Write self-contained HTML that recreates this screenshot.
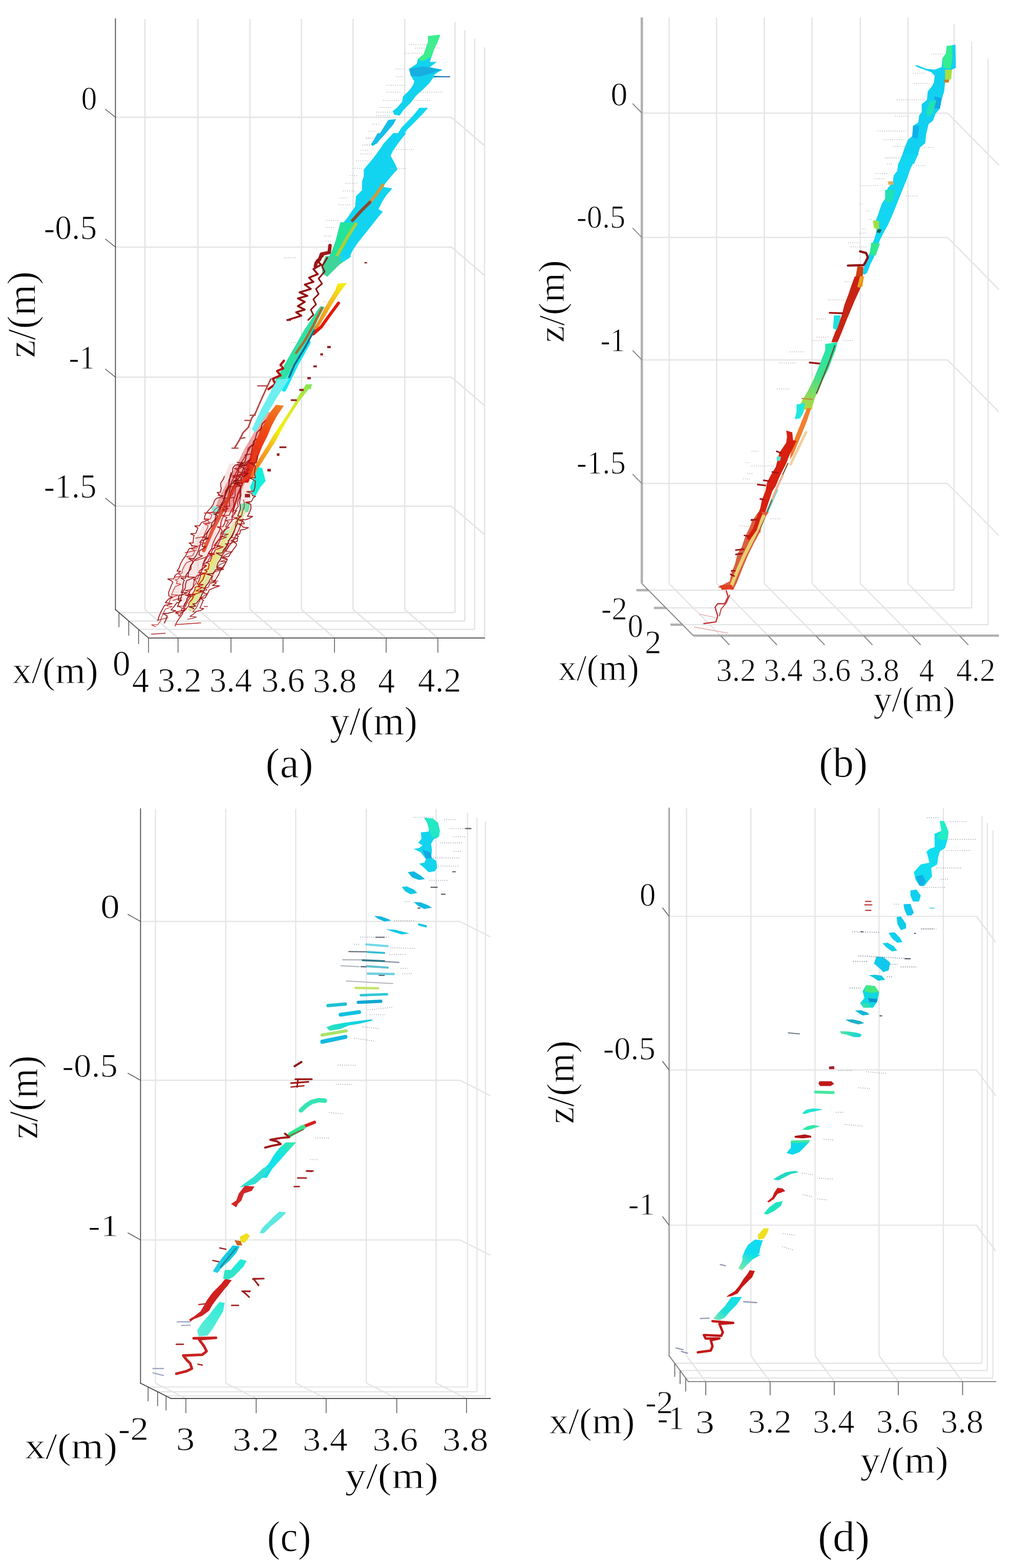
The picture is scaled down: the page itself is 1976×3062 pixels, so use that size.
<!DOCTYPE html><html><head><meta charset="utf-8"><style>html,body{margin:0;padding:0;background:#fff;}svg{display:block;}</style></head><body><svg width="1976" height="3062" viewBox="0 0 1976 3062"><g stroke="#e3e3e3" stroke-width="2.5" fill="none"><line x1="283.0" y1="37.0" x2="283.0" y2="1190.3"/><line x1="283.0" y1="1190.3" x2="347.6" y2="1245.8"/><line x1="386.4" y1="37.0" x2="386.4" y2="1190.3"/><line x1="386.4" y1="1190.3" x2="451.0" y2="1245.8"/><line x1="488.0" y1="37.0" x2="488.0" y2="1190.3"/><line x1="488.0" y1="1190.3" x2="552.6" y2="1245.8"/><line x1="588.6" y1="37.0" x2="588.6" y2="1190.3"/><line x1="588.6" y1="1190.3" x2="653.2" y2="1245.8"/><line x1="689.4" y1="37.0" x2="689.4" y2="1190.3"/><line x1="689.4" y1="1190.3" x2="754.0" y2="1245.8"/><line x1="790.4" y1="37.0" x2="790.4" y2="1190.3"/><line x1="790.4" y1="1190.3" x2="855.0" y2="1245.8"/><line x1="225.4" y1="229.0" x2="881.5" y2="229.0"/><line x1="881.5" y1="229.0" x2="946.1" y2="284.5"/><line x1="225.4" y1="482.5" x2="881.5" y2="482.5"/><line x1="881.5" y1="482.5" x2="946.1" y2="538.0"/><line x1="225.4" y1="736.5" x2="881.5" y2="736.5"/><line x1="881.5" y1="736.5" x2="946.1" y2="792.0"/><line x1="225.4" y1="988.5" x2="881.5" y2="988.5"/><line x1="881.5" y1="988.5" x2="946.1" y2="1044.0"/><line x1="888.4" y1="42.9" x2="888.4" y2="1196.2"/><line x1="232.3" y1="1196.2" x2="888.4" y2="1196.2"/><line x1="907.5" y1="59.4" x2="907.5" y2="1212.7"/><line x1="251.4" y1="1212.7" x2="907.5" y2="1212.7"/><line x1="926.7" y1="75.8" x2="926.7" y2="1229.1"/><line x1="270.6" y1="1229.1" x2="926.7" y2="1229.1"/><line x1="946.1" y1="92.5" x2="946.1" y2="1245.8"/><line x1="290.0" y1="1245.8" x2="946.1" y2="1245.8"/></g><g stroke="#e3e3e3" stroke-width="2.3" fill="none"><line x1="1306.5" y1="34.0" x2="1306.5" y2="1139.5"/><line x1="1306.5" y1="1139.5" x2="1407.0" y2="1241.3"/><line x1="1399.2" y1="34.0" x2="1399.2" y2="1139.5"/><line x1="1399.2" y1="1139.5" x2="1499.7" y2="1241.3"/><line x1="1492.3" y1="34.0" x2="1492.3" y2="1139.5"/><line x1="1492.3" y1="1139.5" x2="1592.8" y2="1241.3"/><line x1="1585.6" y1="34.0" x2="1585.6" y2="1139.5"/><line x1="1585.6" y1="1139.5" x2="1686.1" y2="1241.3"/><line x1="1679.8" y1="34.0" x2="1679.8" y2="1139.5"/><line x1="1679.8" y1="1139.5" x2="1780.3" y2="1241.3"/><line x1="1772.8" y1="34.0" x2="1772.8" y2="1139.5"/><line x1="1772.8" y1="1139.5" x2="1873.3" y2="1241.3"/><line x1="1253.2" y1="220.8" x2="1850.0" y2="220.8"/><line x1="1850.0" y1="220.8" x2="1950.5" y2="322.6"/><line x1="1253.2" y1="463.6" x2="1850.0" y2="463.6"/><line x1="1850.0" y1="463.6" x2="1950.5" y2="565.4"/><line x1="1253.2" y1="702.8" x2="1850.0" y2="702.8"/><line x1="1850.0" y1="702.8" x2="1950.5" y2="804.6"/><line x1="1253.2" y1="944.2" x2="1850.0" y2="944.2"/><line x1="1850.0" y1="944.2" x2="1950.5" y2="1046.0"/><line x1="1862.9" y1="47.0" x2="1862.9" y2="1152.5"/><line x1="1266.1" y1="1152.5" x2="1862.9" y2="1152.5"/><line x1="1897.1" y1="81.7" x2="1897.1" y2="1187.2"/><line x1="1300.3" y1="1187.2" x2="1897.1" y2="1187.2"/><line x1="1929.4" y1="114.4" x2="1929.4" y2="1219.9"/><line x1="1332.6" y1="1219.9" x2="1929.4" y2="1219.9"/></g><g stroke="#e3e3e3" stroke-width="2.2" fill="none"><line x1="303.5" y1="1579.5" x2="303.5" y2="2701.0"/><line x1="303.5" y1="2701.0" x2="362.9" y2="2731.0"/><line x1="440.8" y1="1579.5" x2="440.8" y2="2701.0"/><line x1="440.8" y1="2701.0" x2="500.2" y2="2731.0"/><line x1="577.4" y1="1579.5" x2="577.4" y2="2701.0"/><line x1="577.4" y1="2701.0" x2="636.8" y2="2731.0"/><line x1="715.3" y1="1579.5" x2="715.3" y2="2701.0"/><line x1="715.3" y1="2701.0" x2="774.7" y2="2731.0"/><line x1="851.5" y1="1579.5" x2="851.5" y2="2701.0"/><line x1="851.5" y1="2701.0" x2="910.9" y2="2731.0"/><line x1="274.4" y1="1799.4" x2="898.0" y2="1799.4"/><line x1="898.0" y1="1799.4" x2="957.4" y2="1829.4"/><line x1="274.4" y1="2109.6" x2="898.0" y2="2109.6"/><line x1="898.0" y1="2109.6" x2="957.4" y2="2139.6"/><line x1="274.4" y1="2421.3" x2="898.0" y2="2421.3"/><line x1="898.0" y1="2421.3" x2="957.4" y2="2451.3"/><line x1="912.9" y1="1587.0" x2="912.9" y2="2708.5"/><line x1="289.2" y1="2708.5" x2="912.9" y2="2708.5"/><line x1="931.3" y1="1596.3" x2="931.3" y2="2717.8"/><line x1="307.7" y1="2717.8" x2="931.3" y2="2717.8"/><line x1="947.9" y1="1604.7" x2="947.9" y2="2726.2"/><line x1="324.3" y1="2726.2" x2="947.9" y2="2726.2"/></g><g stroke="#e3e3e3" stroke-width="2.2" fill="none"><line x1="1340.5" y1="1578.3" x2="1340.5" y2="2647.5"/><line x1="1340.5" y1="2647.5" x2="1378.0" y2="2698.0"/><line x1="1466.2" y1="1578.3" x2="1466.2" y2="2647.5"/><line x1="1466.2" y1="2647.5" x2="1503.7" y2="2698.0"/><line x1="1591.5" y1="1578.3" x2="1591.5" y2="2647.5"/><line x1="1591.5" y1="2647.5" x2="1629.0" y2="2698.0"/><line x1="1716.5" y1="1578.3" x2="1716.5" y2="2647.5"/><line x1="1716.5" y1="2647.5" x2="1754.0" y2="2698.0"/><line x1="1842.0" y1="1578.3" x2="1842.0" y2="2647.5"/><line x1="1842.0" y1="2647.5" x2="1879.5" y2="2698.0"/><line x1="1306.5" y1="1789.5" x2="1906.5" y2="1789.5"/><line x1="1906.5" y1="1789.5" x2="1944.0" y2="1840.0"/><line x1="1306.5" y1="2089.4" x2="1906.5" y2="2089.4"/><line x1="1906.5" y1="2089.4" x2="1944.0" y2="2139.9"/><line x1="1306.5" y1="2392.5" x2="1906.5" y2="2392.5"/><line x1="1906.5" y1="2392.5" x2="1944.0" y2="2443.0"/><line x1="1917.4" y1="1592.9" x2="1917.4" y2="2662.1"/><line x1="1317.4" y1="2662.1" x2="1917.4" y2="2662.1"/><line x1="1927.9" y1="1607.1" x2="1927.9" y2="2676.3"/><line x1="1327.9" y1="2676.3" x2="1927.9" y2="2676.3"/><line x1="1938.8" y1="1621.7" x2="1938.8" y2="2690.9"/><line x1="1338.8" y1="2690.9" x2="1938.8" y2="2690.9"/></g><g><polygon points="447.8,905.0 437.9,930.0 426.8,960.0 415.0,992.0 394.0,1030.0 379.0,1057.0 363.8,1090.0 349.0,1122.0 338.7,1150.0 329.4,1175.0 392.2,1175.0 407.2,1150.0 424.0,1122.0 440.2,1090.0 457.0,1057.0 467.8,1030.0 483.0,992.0 486.0,960.0 488.7,930.0 496.8,905.0" fill="#f0b4b4" fill-opacity="0.35"/><polygon points="835.8,70.4 859.5,67.9 854.4,82.2 847.7,95.7 842.6,110.9 839.2,121.0 852.7,121.0 839.2,131.2 864.5,136.2 854.4,141.3 846.0,148.1 876.4,149.7 846.0,151.4 839.2,161.6 825.7,175.1 812.2,186.9 802.1,200.4 788.6,213.9 780.1,225.7 770.0,224.0 766.6,217.3 775.1,210.5 785.2,198.7 786.9,188.6 800.4,175.1 807.1,164.9 808.8,158.2 802.1,148.1 819.0,139.6 798.7,134.5 813.9,124.4 815.6,116.0 827.4,105.8 832.5,90.6 835.8,82.2" fill="#12d2ee"/><polygon points="835.8,70.4 859.5,67.9 854.4,82.2 847.7,95.7 842.6,110.9 825.7,119.4 815.6,116.0 827.4,105.8 832.5,90.6 835.8,82.2" fill="#3cef8c"/><polygon points="798.7,134.5 825.7,129.5 862.9,136.2 842.6,143.0 819.0,149.7 802.1,148.1" fill="#18aee0"/><polyline points="847.7,149.4 878.1,150.1" fill="none" stroke="#1570a8" stroke-width="2.0" stroke-linejoin="round" stroke-linecap="round"/><polygon points="819.0,210.5 835.8,210.5 825.7,222.3 808.8,239.2 795.3,252.7 786.9,264.5 775.1,279.7 768.3,289.9 761.6,300.0 739.6,300.0 748.1,286.5 761.6,276.4 775.1,262.9 785.2,247.7 800.4,232.5 812.2,219.0" fill="#10d6f0"/><polygon points="758.2,234.2 773.4,232.5 768.3,242.6 758.2,254.4 748.1,266.2 734.5,279.7 727.8,284.8 724.4,281.4 731.2,273.0 741.3,261.2 749.7,247.7" fill="#14bfe8"/><polygon points="737.3,260.0 752.5,260.0 735.6,280.3 727.1,285.3 724.6,281.9" fill="#14bfe8"/><polygon points="793.0,260.0 779.5,276.9 767.7,293.8 762.6,303.9 771.0,319.1 776.1,330.9 769.4,337.7 752.5,357.9 747.4,364.7 766.0,368.1 754.2,381.6 745.7,395.1 739.0,408.6 747.4,413.6 737.3,425.5 725.5,440.6 711.9,457.5 698.4,474.4 688.3,489.6 681.6,504.8 674.8,506.5 664.7,504.8 654.5,520.0 632.6,520.0 641.0,503.1 651.2,484.5 654.5,472.7 663.0,454.2 668.1,437.3 678.2,425.5 684.9,415.3 693.4,403.5 695.1,383.2 706.9,371.4 706.9,354.5 710.3,344.4 710.3,330.9 720.4,319.1 728.8,309.0 742.3,290.4 749.1,280.3 767.7,260.0" fill="#12d4f0"/><polygon points="664.7,433.9 695.1,435.6 688.3,454.2 674.8,479.5 661.3,499.7 644.4,499.7 654.5,472.7" fill="#22e49a"/><polyline points="747.4,361.3 735.6,378.2 722.1,395.1" fill="none" stroke="#d09a38" stroke-width="6.1" stroke-linejoin="round" stroke-linecap="round"/><polyline points="722.1,395.1 705.2,411.9 688.3,430.5" fill="none" stroke="#8a4a30" stroke-width="6.1" stroke-linejoin="round" stroke-linecap="round"/><polyline points="695.1,437.3 678.2,462.6 657.9,499.7 647.8,520.0" fill="none" stroke="#a8d040" stroke-width="6.1" stroke-linejoin="round" stroke-linecap="round"/><polyline points="644.4,479.5 642.7,493.0 627.5,496.4 624.2,506.5 617.4,513.2 615.7,520.0" fill="none" stroke="#a01818" stroke-width="6.8" stroke-linejoin="round" stroke-linecap="round"/><polygon points="635.6,500.0 686.2,500.0 662.6,516.9 645.7,533.8 639.0,540.5 628.8,533.8 628.8,516.9" fill="#3ed49a"/><polygon points="666.0,500.0 686.2,500.0 672.7,510.1 662.6,510.1" fill="#16d8f0"/><polyline points="630.5,500.0 618.7,508.4 627.1,516.9 611.9,525.3 620.4,535.5 603.5,542.2 611.9,550.6 595.1,555.7 606.9,564.2 584.9,570.9 600.1,577.7 581.6,582.7 595.1,589.5 581.6,597.9 595.1,604.7 578.2,609.7 588.3,616.5 561.3,624.9" fill="none" stroke="#951010" stroke-width="3.7" stroke-linejoin="round" stroke-linecap="round"/><polyline points="639.0,503.4 628.8,520.3 633.9,530.4 622.1,543.9 628.8,554.0 617.0,564.2 622.1,574.3 611.9,584.4 617.0,594.5 606.9,604.7 611.9,614.8 601.8,624.9" fill="none" stroke="#8a1010" stroke-width="3.0" stroke-linejoin="round" stroke-linecap="round"/><linearGradient id="g1" gradientUnits="userSpaceOnUse" x1="669.4" y1="554.0" x2="611.9" y2="646.9"><stop offset="0" stop-color="#f4f010"/><stop offset="0.35" stop-color="#f4c020"/><stop offset="1" stop-color="#f08020"/></linearGradient><polygon points="659.2,554.0 654.2,567.5 644.0,584.4 633.9,601.3 625.5,618.2 617.0,635.1 608.6,645.2 615.3,648.6 622.1,638.4 632.2,621.6 642.3,604.7 652.5,587.8 662.6,572.6 671.0,560.8 677.8,552.3" fill="url(#g1)"/><polyline points="660.9,592.0 644.0,614.8 627.1,638.4 611.9,651.9" fill="none" stroke="#e01808" stroke-width="6.1" stroke-linejoin="round" stroke-linecap="round"/><polygon points="625.5,597.9 633.9,599.6 622.1,621.6 611.9,645.2 603.5,662.1 591.7,682.3 578.2,702.6 568.1,722.9 557.9,739.7 547.8,760.0 530.9,760.0 539.4,739.7 551.2,719.5 564.7,695.8 578.2,672.2 593.4,645.2 606.9,624.9 617.0,609.7" fill="#30e0a4"/><polyline points="628.8,601.3 611.9,635.1 595.1,665.5 578.2,689.1" fill="none" stroke="#b06830" stroke-width="4.4" stroke-linejoin="round" stroke-linecap="round"/><polyline points="601.8,668.8 578.2,711.0 554.5,760.0" fill="none" stroke="#12e8f4" stroke-width="9.5" stroke-linejoin="round" stroke-linecap="round"/><polyline points="613.6,645.2 595.1,679.0 574.8,712.7 564.7,736.4" fill="none" stroke="#206a80" stroke-width="3.7" stroke-linejoin="round" stroke-linecap="round"/><polyline points="554.5,704.3 547.8,712.7 552.9,719.5 541.0,724.5 547.8,733.0 532.6,739.7 537.7,749.9 524.2,760.0" fill="none" stroke="#b01414" stroke-width="4.4" stroke-linejoin="round" stroke-linecap="round"/><polygon points="598.4,751.6 608.6,749.9 606.9,760.0 596.8,760.0" fill="#84e844"/><rect x="639.0" y="675.6" width="6.8" height="4.2" fill="#901818"/><rect x="625.5" y="689.9" width="5.1" height="4.2" fill="#901818"/><rect x="611.9" y="713.6" width="6.8" height="3.7" fill="#901818"/><rect x="600.1" y="736.4" width="6.8" height="4.2" fill="#901818"/><rect x="559.6" y="623.2" width="8.4" height="3.4" fill="#901818"/><rect x="711.6" y="511.8" width="5.1" height="2.5" fill="#901818"/><polygon points="518.7,800.8 508.6,821.0 498.4,839.6 488.3,858.2 478.2,875.1 468.1,895.3 457.9,915.6 447.8,934.2 437.7,952.7 427.5,973.0 417.4,1000.0 454.5,1000.0 464.7,976.4 474.8,951.0 481.6,934.2 488.3,917.3 495.1,895.3 503.5,873.4 511.9,849.7 520.4,827.8 527.1,805.8" fill="#e06a6a" fill-opacity="0.6"/><polyline points="511.9,834.5 501.8,844.7 495.1,868.3 484.9,875.1 478.2,902.1 468.1,908.8 461.3,935.8 451.2,946.0 444.4,973.0 434.3,1000.0" fill="none" stroke="#a01818" stroke-width="2.0" stroke-linejoin="round" stroke-linecap="round"/><polyline points="522.1,817.7 511.9,827.8 505.2,854.8 495.1,861.6 488.3,897.0 478.2,905.5 471.4,927.4 461.3,939.2 454.5,964.5 444.4,976.4 441.0,1000.0" fill="none" stroke="#a01818" stroke-width="2.0" stroke-linejoin="round" stroke-linecap="round"/><polyline points="508.6,861.6 491.7,898.7 478.2,932.5 464.7,964.5 454.5,1000.0" fill="none" stroke="#c01010" stroke-width="2.7" stroke-linejoin="round" stroke-linecap="round"/><polyline points="491.7,868.3 478.2,891.9 468.1,908.8 457.9,929.1 447.8,951.0 437.7,973.0 427.5,1000.0" fill="none" stroke="#b01818" stroke-width="1.7" stroke-linejoin="round" stroke-linecap="round"/><line x1="478.2" y1="888.6" x2="498.4" y2="885.2" stroke="#a01818" stroke-width="1.7" stroke-linecap="round"/><line x1="468.1" y1="908.8" x2="488.3" y2="907.1" stroke="#a01818" stroke-width="1.7" stroke-linecap="round"/><line x1="454.5" y1="929.1" x2="478.2" y2="925.7" stroke="#a01818" stroke-width="1.7" stroke-linecap="round"/><line x1="444.4" y1="951.0" x2="468.1" y2="949.4" stroke="#a01818" stroke-width="1.7" stroke-linecap="round"/><line x1="434.3" y1="973.0" x2="457.9" y2="971.3" stroke="#a01818" stroke-width="1.7" stroke-linecap="round"/><line x1="488.3" y1="871.7" x2="505.2" y2="868.3" stroke="#a01818" stroke-width="1.7" stroke-linecap="round"/><polyline points="528.8,740.0 517.0,765.3 508.6,783.9 498.4,807.5 491.7,816.0 484.9,834.5 474.8,844.7 468.1,858.2 457.9,875.1" fill="none" stroke="#b04848" stroke-width="3.0" stroke-linejoin="round" stroke-linecap="round"/><line x1="503.5" y1="753.5" x2="522.1" y2="753.5" stroke="#b04848" stroke-width="2.4" stroke-linecap="round"/><line x1="478.2" y1="821.0" x2="488.3" y2="821.0" stroke="#b04848" stroke-width="2.4" stroke-linecap="round"/><line x1="452.9" y1="875.1" x2="464.7" y2="875.1" stroke="#b04848" stroke-width="2.4" stroke-linecap="round"/><line x1="488.3" y1="810.9" x2="498.4" y2="810.9" stroke="#b04848" stroke-width="2.4" stroke-linecap="round"/><line x1="468.1" y1="856.5" x2="478.2" y2="854.8" stroke="#b04848" stroke-width="2.4" stroke-linecap="round"/><polygon points="542.3,740.0 532.2,756.9 522.1,777.1 511.9,795.7 503.5,812.6 496.8,827.8 491.7,837.9 498.4,844.7 508.6,827.8 522.1,807.5 532.2,790.6 542.3,773.8 554.2,755.2 564.3,740.0" fill="#6cefef"/><linearGradient id="g2" gradientUnits="userSpaceOnUse" x1="545.7" y1="789.0" x2="478.2" y2="942.6"><stop offset="0" stop-color="#f08020"/><stop offset="0.35" stop-color="#f04a14"/><stop offset="1" stop-color="#e01010"/></linearGradient><polygon points="539.0,790.6 525.5,807.5 517.0,824.4 506.9,844.7 496.8,866.6 488.3,891.9 479.9,917.3 471.4,942.6 484.9,942.6 493.4,919.0 503.5,893.6 511.9,871.7 522.1,851.4 530.5,831.2 540.6,812.6 554.2,792.3" fill="url(#g2)"/><linearGradient id="g3" gradientUnits="userSpaceOnUse" x1="603.1" y1="751.8" x2="488.3" y2="934.2"><stop offset="0" stop-color="#80e850"/><stop offset="0.22" stop-color="#d8e830"/><stop offset="0.5" stop-color="#f4f010"/><stop offset="0.7" stop-color="#f4a820"/><stop offset="1" stop-color="#f06a20"/></linearGradient><polygon points="598.1,750.1 584.5,770.4 572.7,790.6 560.9,809.2 547.4,829.5 533.9,849.7 522.1,870.0 510.3,888.6 498.4,908.8 488.3,927.4 484.9,934.2 493.4,934.2 503.5,915.6 515.3,897.0 527.1,878.4 539.0,859.9 549.1,841.3 559.2,822.7 571.0,804.2 582.9,785.6 599.7,763.6 609.9,751.8" fill="url(#g3)"/><polygon points="503.5,912.2 511.9,913.9 518.7,939.2 508.6,951.0 498.4,969.6 491.7,962.9 488.3,951.0 495.1,934.2" fill="#14f0da"/><polygon points="415.7,989.9 427.5,988.2 425.8,1000.0 414.0,1000.0" fill="#40d8d0"/><polygon points="478.2,983.1 488.3,981.4 484.9,1000.0 474.8,1000.0" fill="#70d890"/><rect x="545.7" y="871.7" width="13.5" height="3.4" fill="#9a2020"/><rect x="540.6" y="885.2" width="5.1" height="5.1" fill="#9a2020"/><rect x="522.1" y="915.6" width="6.8" height="5.1" fill="#9a2020"/><rect x="584.5" y="759.4" width="8.4" height="4.2" fill="#9a2020"/><rect x="567.7" y="779.7" width="11.8" height="3.4" fill="#9a2020"/><rect x="478.2" y="964.5" width="10.1" height="6.8" fill="#9a2020"/><polyline points="486.4,980.0 469.5,1005.3 457.7,1030.6 449.2,1050.9 435.7,1081.3 425.6,1098.2 415.5,1115.1" fill="none" stroke="#b04040" stroke-width="2.4" stroke-linejoin="round" stroke-linecap="round"/><polyline points="474.5,1013.8 466.1,1035.7 456.0,1054.3 440.8,1074.5 429.0,1089.7" fill="none" stroke="#c04848" stroke-width="2.4" stroke-linejoin="round" stroke-linecap="round"/><polyline points="439.1,1050.9 427.3,1074.5 415.5,1094.8 401.9,1118.4 390.1,1138.7 381.7,1157.3 371.6,1179.2" fill="none" stroke="#f0e068" stroke-width="6.8" stroke-linejoin="round" stroke-linecap="round"/><polygon points="412.1,990.1 429.0,988.4 427.3,1003.6 415.5,1005.3" fill="#90ecdc"/><polygon points="469.5,983.4 486.4,981.7 483.0,1000.3 467.8,1001.9" fill="#78e4b0"/><polygon points="435.7,1035.7 452.6,1034.0 450.9,1047.5 437.4,1049.2" fill="#b8f0c0"/><line x1="398.6" y1="1001.9" x2="427.3" y2="1000.3" stroke="#b84040" stroke-width="1.7" stroke-linecap="round"/><line x1="396.9" y1="1022.2" x2="412.1" y2="1020.5" stroke="#b84040" stroke-width="1.7" stroke-linecap="round"/><line x1="381.7" y1="1050.9" x2="401.9" y2="1047.5" stroke="#b84040" stroke-width="1.7" stroke-linecap="round"/><line x1="361.4" y1="1079.6" x2="383.4" y2="1074.5" stroke="#b84040" stroke-width="1.7" stroke-linecap="round"/><line x1="381.7" y1="1094.8" x2="401.9" y2="1088.1" stroke="#b84040" stroke-width="1.7" stroke-linecap="round"/><line x1="341.2" y1="1126.9" x2="368.2" y2="1125.2" stroke="#b84040" stroke-width="1.7" stroke-linecap="round"/><line x1="337.8" y1="1172.5" x2="354.7" y2="1167.4" stroke="#b84040" stroke-width="1.7" stroke-linecap="round"/><line x1="307.4" y1="1211.3" x2="327.7" y2="1206.2" stroke="#b84040" stroke-width="1.7" stroke-linecap="round"/><line x1="295.6" y1="1238.3" x2="322.6" y2="1236.6" stroke="#b84040" stroke-width="1.7" stroke-linecap="round"/><line x1="429.0" y1="1115.1" x2="439.1" y2="1101.6" stroke="#b84040" stroke-width="1.7" stroke-linecap="round"/><line x1="408.7" y1="1137.0" x2="425.6" y2="1134.5" stroke="#b84040" stroke-width="1.7" stroke-linecap="round"/><line x1="344.5" y1="1219.7" x2="391.8" y2="1216.4" stroke="#b84040" stroke-width="1.7" stroke-linecap="round"/><line x1="398.6" y1="1184.3" x2="405.3" y2="1184.3" stroke="#b84040" stroke-width="1.7" stroke-linecap="round"/><line x1="798.7" y1="87.3" x2="856.1" y2="87.3" stroke="#b4b8c4" stroke-width="1.5" stroke-dasharray="1.6 2.6"/><line x1="810.5" y1="94.0" x2="857.8" y2="94.0" stroke="#b4b8c4" stroke-width="1.5" stroke-dasharray="1.6 2.6"/><line x1="788.6" y1="104.2" x2="825.7" y2="104.2" stroke="#b4b8c4" stroke-width="1.5" stroke-dasharray="1.6 2.6"/><line x1="839.2" y1="119.4" x2="852.7" y2="119.4" stroke="#b4b8c4" stroke-width="1.5" stroke-dasharray="1.6 2.6"/><line x1="771.7" y1="134.5" x2="791.9" y2="134.5" stroke="#b4b8c4" stroke-width="1.5" stroke-dasharray="1.6 2.6"/><line x1="773.4" y1="149.7" x2="786.9" y2="149.7" stroke="#b4b8c4" stroke-width="1.5" stroke-dasharray="1.6 2.6"/><line x1="754.8" y1="166.6" x2="791.9" y2="166.6" stroke="#b4b8c4" stroke-width="1.5" stroke-dasharray="1.6 2.6"/><line x1="754.8" y1="180.1" x2="783.5" y2="180.1" stroke="#b4b8c4" stroke-width="1.5" stroke-dasharray="1.6 2.6"/><line x1="817.3" y1="180.1" x2="864.5" y2="180.1" stroke="#b4b8c4" stroke-width="1.5" stroke-dasharray="1.6 2.6"/><line x1="748.1" y1="196.2" x2="780.1" y2="196.2" stroke="#b4b8c4" stroke-width="1.5" stroke-dasharray="1.6 2.6"/><line x1="808.8" y1="196.2" x2="840.9" y2="196.2" stroke="#b4b8c4" stroke-width="1.5" stroke-dasharray="1.6 2.6"/><line x1="741.3" y1="209.7" x2="766.6" y2="209.7" stroke="#b4b8c4" stroke-width="1.5" stroke-dasharray="1.6 2.6"/><line x1="734.5" y1="219.0" x2="764.9" y2="219.0" stroke="#b4b8c4" stroke-width="1.5" stroke-dasharray="1.6 2.6"/><line x1="734.5" y1="225.7" x2="763.2" y2="225.7" stroke="#b4b8c4" stroke-width="1.5" stroke-dasharray="1.6 2.6"/><line x1="726.1" y1="242.6" x2="741.3" y2="242.6" stroke="#b4b8c4" stroke-width="1.5" stroke-dasharray="1.6 2.6"/><line x1="719.4" y1="256.1" x2="734.5" y2="256.1" stroke="#b4b8c4" stroke-width="1.5" stroke-dasharray="1.6 2.6"/><line x1="714.3" y1="269.6" x2="727.8" y2="269.6" stroke="#b4b8c4" stroke-width="1.5" stroke-dasharray="1.6 2.6"/><line x1="707.5" y1="283.1" x2="724.4" y2="283.1" stroke="#b4b8c4" stroke-width="1.5" stroke-dasharray="1.6 2.6"/><line x1="704.2" y1="293.2" x2="719.4" y2="293.2" stroke="#b4b8c4" stroke-width="1.5" stroke-dasharray="1.6 2.6"/><line x1="715.3" y1="270.1" x2="728.8" y2="270.1" stroke="#b4b8c4" stroke-width="1.5" stroke-dasharray="1.6 2.6"/><line x1="711.9" y1="283.6" x2="722.1" y2="283.6" stroke="#b4b8c4" stroke-width="1.5" stroke-dasharray="1.6 2.6"/><line x1="703.5" y1="300.5" x2="728.8" y2="300.5" stroke="#b4b8c4" stroke-width="1.5" stroke-dasharray="1.6 2.6"/><line x1="695.1" y1="314.0" x2="723.8" y2="314.0" stroke="#b4b8c4" stroke-width="1.5" stroke-dasharray="1.6 2.6"/><line x1="688.3" y1="329.2" x2="708.6" y2="329.2" stroke="#b4b8c4" stroke-width="1.5" stroke-dasharray="1.6 2.6"/><line x1="683.2" y1="342.7" x2="700.1" y2="342.7" stroke="#b4b8c4" stroke-width="1.5" stroke-dasharray="1.6 2.6"/><line x1="674.8" y1="357.9" x2="700.1" y2="357.9" stroke="#b4b8c4" stroke-width="1.5" stroke-dasharray="1.6 2.6"/><line x1="669.7" y1="373.1" x2="695.1" y2="373.1" stroke="#b4b8c4" stroke-width="1.5" stroke-dasharray="1.6 2.6"/><line x1="664.7" y1="386.6" x2="678.2" y2="386.6" stroke="#b4b8c4" stroke-width="1.5" stroke-dasharray="1.6 2.6"/><line x1="661.3" y1="400.1" x2="684.9" y2="400.1" stroke="#b4b8c4" stroke-width="1.5" stroke-dasharray="1.6 2.6"/><line x1="637.7" y1="430.5" x2="661.3" y2="430.5" stroke="#b4b8c4" stroke-width="1.5" stroke-dasharray="1.6 2.6"/><line x1="637.7" y1="444.0" x2="654.5" y2="444.0" stroke="#b4b8c4" stroke-width="1.5" stroke-dasharray="1.6 2.6"/><line x1="632.6" y1="460.9" x2="647.8" y2="460.9" stroke="#b4b8c4" stroke-width="1.5" stroke-dasharray="1.6 2.6"/><line x1="636.0" y1="471.0" x2="649.5" y2="471.0" stroke="#b4b8c4" stroke-width="1.5" stroke-dasharray="1.6 2.6"/><line x1="769.4" y1="292.1" x2="808.2" y2="292.1" stroke="#b4b8c4" stroke-width="1.5" stroke-dasharray="1.6 2.6"/><line x1="762.6" y1="329.2" x2="793.0" y2="329.2" stroke="#b4b8c4" stroke-width="1.5" stroke-dasharray="1.6 2.6"/><line x1="554.5" y1="503.4" x2="578.2" y2="503.4" stroke="#c8a8a8" stroke-width="1.5" stroke-dasharray="1.6 2.6"/><line x1="544.4" y1="716.1" x2="571.4" y2="716.1" stroke="#c8a8a8" stroke-width="1.5" stroke-dasharray="1.6 2.6"/><line x1="568.1" y1="668.8" x2="588.3" y2="668.8" stroke="#c8a8a8" stroke-width="1.5" stroke-dasharray="1.6 2.6"/><line x1="632.2" y1="589.5" x2="645.7" y2="589.5" stroke="#c8a8a8" stroke-width="1.5" stroke-dasharray="1.6 2.6"/><line x1="635.6" y1="635.1" x2="644.0" y2="635.1" stroke="#c8a8a8" stroke-width="1.5" stroke-dasharray="1.6 2.6"/><line x1="625.5" y1="695.8" x2="637.3" y2="695.8" stroke="#c8a8a8" stroke-width="1.5" stroke-dasharray="1.6 2.6"/><polygon points="1865.6,87.0 1866.4,132.6 1858.8,136.0 1857.1,147.8 1852.1,157.9 1845.3,161.3 1843.6,178.2 1838.6,195.1 1835.2,211.9 1826.8,222.1 1821.7,235.6 1813.2,242.3 1808.2,262.6 1806.5,279.5 1796.4,287.9 1791.3,304.8 1784.5,320.0 1754.2,320.0 1760.9,304.8 1766.0,289.6 1772.7,272.7 1781.2,266.0 1782.9,245.7 1793.0,239.0 1794.7,225.5 1799.7,218.7 1799.7,203.5 1809.9,195.1 1811.6,178.2 1820.0,168.1 1823.4,161.3 1825.1,147.8 1818.3,141.0 1791.3,130.9 1786.2,127.5 1791.3,127.5 1808.2,134.3 1825.1,136.0 1838.6,130.9 1840.3,114.0 1847.0,103.9 1848.7,90.4" fill="#12d0f0"/><polygon points="1848.7,89.5 1858.8,88.4 1859.7,110.6 1856.3,134.3 1841.9,132.6 1840.3,114.0 1847.0,103.9" fill="#34ee90"/><polygon points="1845.3,136.0 1858.8,136.0 1857.1,154.5 1845.3,157.9" fill="#a8e040"/><polygon points="1843.6,155.4 1853.8,155.4 1852.1,161.3 1843.6,161.3" fill="#c88020"/><polygon points="1825.1,188.3 1838.6,191.7 1835.2,211.9 1823.4,211.9" fill="#10a8e6"/><polygon points="1782.9,245.7 1794.7,245.7 1791.3,271.0 1781.2,267.7" fill="#10b0e8"/><polygon points="1814.9,198.4 1828.4,195.1 1821.7,220.4 1811.6,228.8 1808.2,218.7" fill="#22e0b8"/><polygon points="1794.2,300.0 1785.7,313.5 1777.3,330.4 1770.5,350.6 1762.1,370.9 1755.3,387.8 1748.6,404.7 1741.8,421.6 1733.4,440.1 1724.9,455.3 1718.2,468.8 1711.4,485.7 1706.4,502.6 1699.6,516.1 1692.9,533.0 1687.8,536.4 1684.4,534.7 1687.8,517.8 1691.2,506.0 1697.9,494.2 1701.3,479.0 1706.4,468.8 1709.7,458.7 1711.4,448.6 1708.1,435.1 1714.8,418.2 1718.2,408.1 1721.6,397.9 1728.3,387.8 1730.0,374.3 1733.4,367.5 1743.5,355.7 1745.2,342.2 1751.9,333.8 1753.6,320.3 1762.1,310.1 1767.1,300.0" fill="#12d6f2"/><polygon points="1728.3,370.9 1748.6,370.9 1741.8,394.5 1728.3,394.5" fill="#22e0b4"/><polygon points="1704.7,430.0 1716.5,431.7 1716.5,448.6 1706.4,445.2" fill="#a0e040"/><polygon points="1701.3,473.9 1718.2,475.6 1709.7,499.2 1697.9,497.5" fill="#30e890"/><polygon points="1733.4,354.0 1743.5,354.0 1745.2,360.8 1735.1,360.8" fill="#e0b060"/><polygon points="1714.8,446.9 1721.6,448.6 1718.2,455.3 1711.4,453.6" fill="#206050"/><polyline points="1679.4,490.8 1691.2,494.2 1694.5,502.6 1689.5,512.7 1686.1,517.8 1655.7,518.6" fill="none" stroke="#901010" stroke-width="4.4" stroke-linejoin="round" stroke-linecap="round"/><polygon points="1674.3,519.5 1686.1,521.2 1684.4,539.7 1682.7,560.0 1664.2,560.0 1670.9,539.7" fill="#d04010"/><polygon points="1679.4,539.7 1686.1,539.7 1684.4,560.0 1676.0,560.0" fill="#f0c020"/><polygon points="1668.8,540.0 1687.4,540.0 1679.0,565.3 1668.8,587.3 1660.4,607.5 1651.9,627.8 1645.2,644.7 1638.4,661.6 1635.1,668.3 1623.2,668.3 1628.3,654.8 1635.1,637.9 1643.5,616.0 1648.6,595.7 1657.0,573.8 1663.8,553.5" fill="#c82414"/><polygon points="1679.0,540.0 1687.4,540.0 1679.0,561.9 1673.9,560.3" fill="#f0a020"/><polygon points="1628.3,616.0 1641.8,616.0 1638.4,631.2 1633.4,644.7 1626.6,641.3" fill="#20e0e0"/><line x1="1619.9" y1="610.9" x2="1645.2" y2="611.8" stroke="#a01010" stroke-width="3.4" stroke-linecap="round"/><line x1="1581.0" y1="708.0" x2="1604.7" y2="710.5" stroke="#a01010" stroke-width="3.4" stroke-linecap="round"/><linearGradient id="g4" gradientUnits="userSpaceOnUse" x1="1621.6" y1="670.0" x2="1570.9" y2="793.2"><stop offset="0" stop-color="#20e8b0"/><stop offset="0.5" stop-color="#40e090"/><stop offset="1" stop-color="#b0d840"/></linearGradient><polygon points="1611.4,671.7 1635.1,668.3 1631.7,683.5 1624.9,700.4 1618.2,719.0 1608.1,739.2 1599.6,759.5 1591.2,776.4 1584.4,800.0 1557.4,800.0 1567.5,779.7 1577.7,762.9 1587.8,742.6 1596.2,722.3 1604.7,700.4 1611.4,683.5" fill="url(#g4)"/><polyline points="1630.0,675.1 1618.2,708.8 1604.7,742.6 1594.5,767.9" fill="none" stroke="#606030" stroke-width="2.7" stroke-linejoin="round" stroke-linecap="round"/><polygon points="1555.7,789.9 1570.9,789.9 1567.5,800.0 1555.7,800.0" fill="#10d8e8"/><polyline points="1565.8,778.1 1586.1,779.7" fill="none" stroke="#c08a40" stroke-width="2.4" stroke-linejoin="round" stroke-linecap="round"/><polygon points="1555.3,790.1 1572.2,786.8 1568.8,805.3 1562.1,817.1 1551.9,818.8 1555.3,803.6" fill="#20e8e0"/><polygon points="1575.6,796.9 1584.0,796.9 1575.6,822.2 1565.5,847.5 1557.0,867.8 1548.6,888.1 1541.8,898.2 1545.2,877.9 1551.9,856.0 1562.1,830.6 1568.8,813.8" fill="#f08030"/><polyline points="1573.9,844.2 1543.5,906.6" fill="none" stroke="#f0d0a0" stroke-width="5.1" stroke-linejoin="round" stroke-linecap="round"/><polygon points="1535.1,840.8 1546.9,844.2 1548.6,859.4 1555.3,861.0 1548.6,874.5 1541.8,888.1 1535.1,904.9 1528.3,918.4 1521.6,931.9 1514.8,948.8 1508.1,959.0 1501.3,979.2 1494.5,999.5 1487.8,1016.4 1484.4,1040.0 1467.5,1040.0 1470.9,1019.7 1477.7,1009.6 1484.4,992.7 1487.8,975.8 1494.5,959.0 1497.9,942.1 1504.7,928.6 1514.8,911.7 1518.2,898.2 1521.6,884.7 1528.3,874.5 1535.1,864.4 1536.8,852.6" fill="#d82010"/><line x1="1516.5" y1="881.3" x2="1524.9" y2="884.7" stroke="#a01010" stroke-width="3.0" stroke-linecap="round"/><line x1="1508.1" y1="921.8" x2="1518.2" y2="923.5" stroke="#a01010" stroke-width="3.0" stroke-linecap="round"/><line x1="1491.2" y1="937.9" x2="1501.3" y2="939.5" stroke="#a01010" stroke-width="3.0" stroke-linecap="round"/><line x1="1479.4" y1="946.3" x2="1494.5" y2="948.0" stroke="#a01010" stroke-width="3.0" stroke-linecap="round"/><line x1="1484.4" y1="974.2" x2="1491.2" y2="975.8" stroke="#a01010" stroke-width="3.0" stroke-linecap="round"/><line x1="1467.5" y1="1014.7" x2="1474.3" y2="1015.5" stroke="#a01010" stroke-width="3.0" stroke-linecap="round"/><polyline points="1516.5,957.3 1497.9,999.5" fill="none" stroke="#60e0d0" stroke-width="5.1" stroke-linejoin="round" stroke-linecap="round"/><polyline points="1538.4,904.9 1518.2,948.8 1494.5,1007.9 1481.0,1040.0" fill="none" stroke="#806040" stroke-width="2.4" stroke-linejoin="round" stroke-linecap="round"/><polygon points="1516.5,891.4 1524.9,891.4 1523.2,899.9 1516.5,899.9" fill="#60e0d0"/><polyline points="1528.3,928.6 1514.8,957.3 1508.1,974.2" fill="none" stroke="#f0b090" stroke-width="3.7" stroke-linejoin="round" stroke-linecap="round"/><polygon points="1480.6,1000.0 1468.8,1016.9 1462.1,1033.8 1455.3,1047.3 1448.6,1067.5 1440.1,1081.0 1435.1,1101.3 1428.3,1118.2 1424.9,1135.1 1408.1,1143.5 1401.3,1146.9 1431.7,1151.9 1438.4,1138.4 1445.2,1121.6 1451.9,1104.7 1462.1,1081.0 1472.2,1060.8 1482.3,1042.2 1487.4,1020.3 1500.9,1000.0" fill="#d86040"/><polyline points="1490.8,1008.4 1468.8,1054.0 1451.9,1087.8 1438.4,1118.2 1428.3,1143.5" fill="none" stroke="#e8d070" stroke-width="6.8" stroke-linejoin="round" stroke-linecap="round"/><polyline points="1484.0,1003.4 1473.9,1033.8 1462.1,1050.6" fill="none" stroke="#d82010" stroke-width="7.8" stroke-linejoin="round" stroke-linecap="round"/><line x1="1436.8" y1="1074.3" x2="1451.9" y2="1072.6" stroke="#a01818" stroke-width="3.0" stroke-linecap="round"/><line x1="1436.8" y1="1082.7" x2="1448.6" y2="1081.0" stroke="#a01818" stroke-width="3.0" stroke-linecap="round"/><line x1="1453.6" y1="1045.6" x2="1462.1" y2="1047.3" stroke="#a01818" stroke-width="3.0" stroke-linecap="round"/><line x1="1467.1" y1="1016.0" x2="1477.3" y2="1014.4" stroke="#a01818" stroke-width="3.0" stroke-linecap="round"/><line x1="1428.3" y1="1114.8" x2="1435.1" y2="1114.8" stroke="#a01818" stroke-width="3.0" stroke-linecap="round"/><line x1="1426.6" y1="1121.6" x2="1433.4" y2="1124.9" stroke="#a01818" stroke-width="3.0" stroke-linecap="round"/><polygon points="1404.7,1143.5 1428.3,1141.8 1433.4,1150.3 1409.7,1151.9" fill="#e04020"/><polyline points="1418.2,1153.6 1421.6,1165.5 1414.8,1179.0 1401.3,1179.0 1396.2,1185.7 1401.3,1202.6 1397.9,1214.4 1374.3,1217.8" fill="none" stroke="#c03030" stroke-width="2.4" stroke-linejoin="round" stroke-linecap="round"/><polyline points="1424.9,1162.1 1418.2,1177.3 1408.1,1189.1 1404.7,1202.6" fill="none" stroke="#c04040" stroke-width="2.0" stroke-linejoin="round" stroke-linecap="round"/><polyline points="1355.7,1224.5 1421.6,1236.4" fill="none" stroke="#e0a0a0" stroke-width="1.4" stroke-linejoin="round" stroke-linecap="round"/><polyline points="1365.8,1199.2 1396.2,1206.0" fill="none" stroke="#e0b0b0" stroke-width="1.4" stroke-linejoin="round" stroke-linecap="round"/><line x1="1818.3" y1="105.6" x2="1841.9" y2="105.6" stroke="#b4b8c4" stroke-width="1.5" stroke-dasharray="1.6 2.6"/><line x1="1782.9" y1="142.7" x2="1806.5" y2="142.7" stroke="#b4b8c4" stroke-width="1.5" stroke-dasharray="1.6 2.6"/><line x1="1784.5" y1="163.0" x2="1818.3" y2="163.0" stroke="#b4b8c4" stroke-width="1.5" stroke-dasharray="1.6 2.6"/><line x1="1750.8" y1="195.1" x2="1806.5" y2="195.1" stroke="#b4b8c4" stroke-width="1.5" stroke-dasharray="1.6 2.6"/><line x1="1747.4" y1="227.1" x2="1774.4" y2="227.1" stroke="#b4b8c4" stroke-width="1.5" stroke-dasharray="1.6 2.6"/><line x1="1713.6" y1="255.8" x2="1769.4" y2="255.8" stroke="#b4b8c4" stroke-width="1.5" stroke-dasharray="1.6 2.6"/><line x1="1725.5" y1="272.7" x2="1764.3" y2="272.7" stroke="#b4b8c4" stroke-width="1.5" stroke-dasharray="1.6 2.6"/><line x1="1744.0" y1="286.2" x2="1771.0" y2="286.2" stroke="#b4b8c4" stroke-width="1.5" stroke-dasharray="1.6 2.6"/><line x1="1799.7" y1="287.9" x2="1825.1" y2="287.9" stroke="#b4b8c4" stroke-width="1.5" stroke-dasharray="1.6 2.6"/><line x1="1728.8" y1="308.2" x2="1750.8" y2="308.2" stroke="#b4b8c4" stroke-width="1.5" stroke-dasharray="1.6 2.6"/><line x1="1728.3" y1="308.4" x2="1760.4" y2="308.4" stroke="#b4b8c4" stroke-width="1.5" stroke-dasharray="1.6 2.6"/><line x1="1731.7" y1="320.3" x2="1743.5" y2="320.3" stroke="#b4b8c4" stroke-width="1.5" stroke-dasharray="1.6 2.6"/><line x1="1709.7" y1="338.8" x2="1735.1" y2="338.8" stroke="#b4b8c4" stroke-width="1.5" stroke-dasharray="1.6 2.6"/><line x1="1708.1" y1="349.0" x2="1728.3" y2="349.0" stroke="#b4b8c4" stroke-width="1.5" stroke-dasharray="1.6 2.6"/><line x1="1679.4" y1="362.5" x2="1714.8" y2="362.5" stroke="#b4b8c4" stroke-width="1.5" stroke-dasharray="1.6 2.6"/><line x1="1679.4" y1="397.9" x2="1684.4" y2="397.9" stroke="#b4b8c4" stroke-width="1.5" stroke-dasharray="1.6 2.6"/><line x1="1691.2" y1="411.4" x2="1697.9" y2="411.4" stroke="#b4b8c4" stroke-width="1.5" stroke-dasharray="1.6 2.6"/><line x1="1696.2" y1="428.3" x2="1703.0" y2="428.3" stroke="#b4b8c4" stroke-width="1.5" stroke-dasharray="1.6 2.6"/><line x1="1684.4" y1="446.9" x2="1691.2" y2="446.9" stroke="#b4b8c4" stroke-width="1.5" stroke-dasharray="1.6 2.6"/><line x1="1677.7" y1="455.3" x2="1694.5" y2="455.3" stroke="#b4b8c4" stroke-width="1.5" stroke-dasharray="1.6 2.6"/><line x1="1655.7" y1="473.9" x2="1677.7" y2="473.9" stroke="#b4b8c4" stroke-width="1.5" stroke-dasharray="1.6 2.6"/><line x1="1660.8" y1="482.3" x2="1694.5" y2="482.3" stroke="#b4b8c4" stroke-width="1.5" stroke-dasharray="1.6 2.6"/><line x1="1789.1" y1="323.6" x2="1809.4" y2="323.6" stroke="#b4b8c4" stroke-width="1.5" stroke-dasharray="1.6 2.6"/><line x1="1768.8" y1="382.7" x2="1792.5" y2="382.7" stroke="#b4b8c4" stroke-width="1.5" stroke-dasharray="1.6 2.6"/><line x1="1648.6" y1="550.1" x2="1662.1" y2="550.1" stroke="#c0b0b4" stroke-width="1.5" stroke-dasharray="1.6 2.6"/><line x1="1616.5" y1="585.6" x2="1648.6" y2="585.6" stroke="#c0b0b4" stroke-width="1.5" stroke-dasharray="1.6 2.6"/><line x1="1594.5" y1="622.7" x2="1614.8" y2="622.7" stroke="#c0b0b4" stroke-width="1.5" stroke-dasharray="1.6 2.6"/><line x1="1594.5" y1="658.2" x2="1618.2" y2="658.2" stroke="#c0b0b4" stroke-width="1.5" stroke-dasharray="1.6 2.6"/><line x1="1586.1" y1="664.9" x2="1604.7" y2="664.9" stroke="#c0b0b4" stroke-width="1.5" stroke-dasharray="1.6 2.6"/><line x1="1646.9" y1="664.9" x2="1667.1" y2="664.9" stroke="#c0b0b4" stroke-width="1.5" stroke-dasharray="1.6 2.6"/><line x1="1542.2" y1="686.9" x2="1570.9" y2="686.9" stroke="#c0b0b4" stroke-width="1.5" stroke-dasharray="1.6 2.6"/><line x1="1521.9" y1="708.8" x2="1554.0" y2="708.8" stroke="#c0b0b4" stroke-width="1.5" stroke-dasharray="1.6 2.6"/><line x1="1516.9" y1="759.5" x2="1542.2" y2="759.5" stroke="#c0b0b4" stroke-width="1.5" stroke-dasharray="1.6 2.6"/><line x1="1467.5" y1="881.3" x2="1481.0" y2="881.3" stroke="#c0b4b8" stroke-width="1.5" stroke-dasharray="1.6 2.6"/><line x1="1455.7" y1="903.2" x2="1464.2" y2="903.2" stroke="#c0b4b8" stroke-width="1.5" stroke-dasharray="1.6 2.6"/><line x1="1467.5" y1="910.0" x2="1511.4" y2="910.0" stroke="#c0b4b8" stroke-width="1.5" stroke-dasharray="1.6 2.6"/><line x1="1459.1" y1="925.2" x2="1470.9" y2="925.2" stroke="#c0b4b8" stroke-width="1.5" stroke-dasharray="1.6 2.6"/><line x1="1450.6" y1="935.3" x2="1464.2" y2="935.3" stroke="#c0b4b8" stroke-width="1.5" stroke-dasharray="1.6 2.6"/><line x1="1504.7" y1="1013.0" x2="1524.9" y2="1013.0" stroke="#c0b4b8" stroke-width="1.5" stroke-dasharray="1.6 2.6"/><line x1="1443.9" y1="1026.5" x2="1464.2" y2="1028.2" stroke="#c0b4b8" stroke-width="1.5" stroke-dasharray="1.6 2.6"/><polygon points="828.3,1596.9 845.2,1598.6 855.3,1607.0 858.7,1622.2 857.0,1634.0 846.9,1639.1 841.8,1647.5 843.5,1661.0 841.8,1674.5 851.9,1681.3 853.6,1694.8 848.6,1701.6 836.8,1703.2 828.3,1694.8 818.2,1686.4 828.3,1684.7 831.7,1677.9 821.6,1664.4 808.1,1657.7 818.2,1656.0 824.9,1650.9 816.5,1645.8 823.2,1637.4 821.6,1625.6 836.8,1623.9 838.4,1613.8 833.4,1605.3" fill="#12d4ee"/><polygon points="828.3,1596.9 845.2,1598.6 855.3,1607.0 858.7,1622.2 857.0,1634.0 843.5,1635.7 838.4,1622.2 833.4,1605.3" fill="#22e8c4"/><polygon points="824.9,1659.4 840.1,1664.4 843.5,1676.2 831.7,1676.2" fill="#10a8e0"/><polygon points="796.2,1703.2 808.1,1701.6 821.6,1710.0 830.0,1716.8 818.2,1718.4 804.7,1713.4" fill="#10b8e0"/><polygon points="784.4,1731.9 794.5,1731.1 808.1,1737.0 814.8,1743.8 801.3,1746.3 791.2,1740.4" fill="#12c8e6"/><polygon points="808.1,1761.5 821.6,1762.3 835.1,1767.4 843.5,1772.5 828.3,1775.0 816.5,1769.1" fill="#10b8e0"/><polygon points="730.4,1788.5 743.9,1789.4 757.4,1794.4 764.2,1797.8 750.6,1799.5 738.8,1794.4" fill="#10b8e0"/><polyline points="818.2,1805.4 831.7,1808.8" fill="none" stroke="#10c8e0" stroke-width="4.4" stroke-linejoin="round" stroke-linecap="round"/><polygon points="754.0,1814.7 770.9,1815.5 787.8,1819.7 799.6,1823.1 784.4,1824.8 767.5,1819.7" fill="#12c8e6"/><line x1="909.4" y1="1618.0" x2="919.5" y2="1618.0" stroke="#606870" stroke-width="2.4" stroke-linecap="round"/><line x1="862.1" y1="1746.3" x2="868.8" y2="1746.3" stroke="#606870" stroke-width="2.4" stroke-linecap="round"/><line x1="816.5" y1="1773.3" x2="819.9" y2="1773.3" stroke="#606870" stroke-width="2.4" stroke-linecap="round"/><line x1="884.0" y1="1702.4" x2="889.1" y2="1702.4" stroke="#606870" stroke-width="2.4" stroke-linecap="round"/><line x1="733.8" y1="1830.2" x2="750.6" y2="1830.2" stroke="#606870" stroke-width="2.4" stroke-linecap="round"/><line x1="841.8" y1="1732.8" x2="853.6" y2="1732.8" stroke="#606870" stroke-width="2.4" stroke-linecap="round"/><line x1="806.4" y1="1596.0" x2="848.6" y2="1596.0" stroke="#a8acb8" stroke-width="1.7" stroke-dasharray="1.6 2.6"/><line x1="867.1" y1="1600.3" x2="892.5" y2="1600.3" stroke="#a8acb8" stroke-width="1.7" stroke-dasharray="1.6 2.6"/><line x1="877.3" y1="1618.0" x2="909.4" y2="1618.0" stroke="#a8acb8" stroke-width="1.7" stroke-dasharray="1.6 2.6"/><line x1="885.7" y1="1634.0" x2="911.0" y2="1634.0" stroke="#a8acb8" stroke-width="1.7" stroke-dasharray="1.6 2.6"/><line x1="858.7" y1="1645.8" x2="902.6" y2="1645.8" stroke="#a8acb8" stroke-width="1.7" stroke-dasharray="1.6 2.6"/><line x1="885.7" y1="1662.7" x2="900.9" y2="1662.7" stroke="#a8acb8" stroke-width="1.7" stroke-dasharray="1.6 2.6"/><line x1="845.2" y1="1675.4" x2="899.2" y2="1675.4" stroke="#a8acb8" stroke-width="1.7" stroke-dasharray="1.6 2.6"/><line x1="855.3" y1="1691.4" x2="895.8" y2="1691.4" stroke="#a8acb8" stroke-width="1.7" stroke-dasharray="1.6 2.6"/><line x1="838.4" y1="1719.3" x2="875.6" y2="1719.3" stroke="#a8acb8" stroke-width="1.7" stroke-dasharray="1.6 2.6"/><line x1="789.5" y1="1760.6" x2="801.3" y2="1760.6" stroke="#a8acb8" stroke-width="1.7" stroke-dasharray="1.6 2.6"/><line x1="703.4" y1="1829.9" x2="760.8" y2="1829.9" stroke="#a8acb8" stroke-width="1.7" stroke-dasharray="1.6 2.6"/><line x1="769.2" y1="1797.8" x2="811.4" y2="1797.8" stroke="#a8acb8" stroke-width="1.7" stroke-dasharray="1.6 2.6"/><polyline points="714.8,1844.2 757.0,1847.6" fill="none" stroke="#70d8e8" stroke-width="4.1" stroke-linejoin="round" stroke-linecap="round"/><polyline points="681.0,1858.2 718.2,1858.8" fill="none" stroke="#506070" stroke-width="2.0" stroke-linejoin="round" stroke-linecap="round"/><polyline points="718.2,1859.1 750.3,1860.8" fill="none" stroke="#30bed0" stroke-width="3.7" stroke-linejoin="round" stroke-linecap="round"/><polyline points="669.2,1874.3 708.1,1874.6" fill="none" stroke="#a0a8b0" stroke-width="2.0" stroke-linejoin="round" stroke-linecap="round"/><polyline points="708.1,1875.1 750.3,1876.8" fill="none" stroke="#307888" stroke-width="3.7" stroke-linejoin="round" stroke-linecap="round"/><polyline points="751.9,1877.7 779.0,1879.4" fill="none" stroke="#8890a0" stroke-width="2.4" stroke-linejoin="round" stroke-linecap="round"/><polyline points="665.8,1886.1 701.3,1887.8" fill="none" stroke="#b0b8c0" stroke-width="2.0" stroke-linejoin="round" stroke-linecap="round"/><polyline points="704.7,1887.8 716.5,1888.1" fill="none" stroke="#405060" stroke-width="2.0" stroke-linejoin="round" stroke-linecap="round"/><polyline points="716.5,1886.9 757.0,1889.5" fill="none" stroke="#60c0d0" stroke-width="4.1" stroke-linejoin="round" stroke-linecap="round"/><polyline points="718.2,1901.3 768.8,1902.1" fill="none" stroke="#70d0e0" stroke-width="4.7" stroke-linejoin="round" stroke-linecap="round"/><polyline points="740.1,1904.7 750.3,1904.7" fill="none" stroke="#506070" stroke-width="2.0" stroke-linejoin="round" stroke-linecap="round"/><polyline points="676.0,1915.6 767.1,1920.7" fill="none" stroke="#a8acb4" stroke-width="1.7" stroke-linejoin="round" stroke-linecap="round"/><polyline points="694.5,1929.2 738.4,1930.0" fill="none" stroke="#c4e468" stroke-width="4.7" stroke-linejoin="round" stroke-linecap="round"/><polyline points="704.7,1943.5 755.3,1941.5" fill="none" stroke="#30c8d8" stroke-width="5.1" stroke-linejoin="round" stroke-linecap="round"/><polyline points="699.6,1957.4 743.5,1955.3" fill="none" stroke="#10a8d0" stroke-width="6.4" stroke-linejoin="round" stroke-linecap="round"/><polyline points="640.5,1963.8 674.3,1960.7" fill="none" stroke="#20c0d0" stroke-width="6.4" stroke-linejoin="round" stroke-linecap="round"/><polyline points="665.0,1981.5 701.3,1976.4" fill="none" stroke="#10c0e0" stroke-width="7.4" stroke-linejoin="round" stroke-linecap="round"/><linearGradient id="g5" gradientUnits="userSpaceOnUse" x1="637.1" y1="2009.4" x2="728.3" y2="1991.6"><stop offset="0" stop-color="#30e0b8"/><stop offset="0.5" stop-color="#10d8e0"/><stop offset="1" stop-color="#10c8e0"/></linearGradient><polygon points="637.1,2006.0 650.6,2000.9 670.9,1997.5 694.5,1994.2 724.9,1990.8 728.3,1992.5 701.3,1999.2 681.0,2002.6 664.2,2009.4 643.9,2012.7" fill="url(#g5)"/><polyline points="628.7,2021.2 676.0,2013.1" fill="none" stroke="#a8e468" stroke-width="6.1" stroke-linejoin="round" stroke-linecap="round"/><polyline points="629.5,2034.3 674.3,2024.9" fill="none" stroke="#10b8e0" stroke-width="8.1" stroke-linejoin="round" stroke-linecap="round"/><line x1="691.2" y1="1844.2" x2="703.0" y2="1844.2" stroke="#a8acb8" stroke-width="1.7" stroke-dasharray="1.6 2.6"/><line x1="762.1" y1="1850.6" x2="812.7" y2="1852.3" stroke="#a8acb8" stroke-width="1.7" stroke-dasharray="1.6 2.6"/><line x1="760.4" y1="1863.8" x2="794.2" y2="1863.8" stroke="#a8acb8" stroke-width="1.7" stroke-dasharray="1.6 2.6"/><line x1="665.8" y1="1886.1" x2="701.3" y2="1887.8" stroke="#a8acb8" stroke-width="1.7" stroke-dasharray="1.6 2.6"/><line x1="782.3" y1="1891.2" x2="795.8" y2="1891.2" stroke="#a8acb8" stroke-width="1.7" stroke-dasharray="1.6 2.6"/><line x1="785.7" y1="1901.3" x2="806.0" y2="1901.3" stroke="#a8acb8" stroke-width="1.7" stroke-dasharray="1.6 2.6"/><line x1="718.2" y1="1972.2" x2="765.5" y2="1967.1" stroke="#a8acb8" stroke-width="1.7" stroke-dasharray="1.6 2.6"/><line x1="721.6" y1="1981.5" x2="751.9" y2="1981.5" stroke="#a8acb8" stroke-width="1.7" stroke-dasharray="1.6 2.6"/><line x1="708.1" y1="2005.1" x2="740.1" y2="2008.5" stroke="#a8acb8" stroke-width="1.7" stroke-dasharray="1.6 2.6"/><line x1="691.2" y1="2027.1" x2="730.0" y2="2033.0" stroke="#a8acb8" stroke-width="1.7" stroke-dasharray="1.6 2.6"/><polyline points="575.1,2082.2 588.6,2073.8" fill="none" stroke="#901818" stroke-width="4.1" stroke-linejoin="round" stroke-linecap="round"/><polyline points="576.8,2107.5 608.8,2107.5" fill="none" stroke="#a01818" stroke-width="3.4" stroke-linejoin="round" stroke-linecap="round"/><polyline points="568.3,2115.1 602.1,2112.6" fill="none" stroke="#a01818" stroke-width="3.4" stroke-linejoin="round" stroke-linecap="round"/><polyline points="568.3,2122.7 593.6,2120.2" fill="none" stroke="#a01818" stroke-width="2.4" stroke-linejoin="round" stroke-linecap="round"/><polyline points="581.8,2107.5 580.1,2122.7" fill="none" stroke="#a01818" stroke-width="3.0" stroke-linejoin="round" stroke-linecap="round"/><polyline points="587.7,2168.3 598.7,2158.2 608.8,2151.8 622.3,2148.4 634.2,2149.4" fill="none" stroke="#34e4b4" stroke-width="8.8" stroke-linejoin="round" stroke-linecap="round"/><polyline points="591.9,2200.4 613.9,2191.6" fill="none" stroke="#d82020" stroke-width="6.4" stroke-linejoin="round" stroke-linecap="round"/><polyline points="566.6,2215.6 591.9,2201.2" fill="none" stroke="#30e890" stroke-width="9.5" stroke-linejoin="round" stroke-linecap="round"/><polyline points="566.6,2217.6 591.9,2205.8" fill="none" stroke="#806040" stroke-width="2.4" stroke-linejoin="round" stroke-linecap="round"/><polyline points="517.7,2240.9 531.2,2237.5 548.1,2234.2 541.3,2229.1 527.8,2225.7 548.1,2222.3 564.9,2220.6 556.5,2213.9" fill="none" stroke="#a01818" stroke-width="4.1" stroke-linejoin="round" stroke-linecap="round"/><linearGradient id="g6" gradientUnits="userSpaceOnUse" x1="568.3" y1="2230.8" x2="507.5" y2="2300.0"><stop offset="0" stop-color="#34e8b0"/><stop offset="0.4" stop-color="#14e4e8"/><stop offset="1" stop-color="#10dcec"/></linearGradient><polygon points="578.4,2230.8 575.1,2234.2 558.2,2252.7 544.7,2267.9 531.2,2283.1 521.0,2300.0 495.7,2300.0 510.9,2286.5 524.4,2273.0 534.5,2256.1 544.7,2242.6 558.2,2230.8" fill="url(#g6)"/><polygon points="598.7,2284.8 610.5,2285.6 608.8,2289.0 599.5,2288.2" fill="#c02020"/><line x1="656.1" y1="2117.7" x2="688.2" y2="2117.7" stroke="#a8acb8" stroke-width="1.7" stroke-dasharray="1.6 2.6"/><line x1="642.6" y1="2172.5" x2="669.6" y2="2175.1" stroke="#a8acb8" stroke-width="1.7" stroke-dasharray="1.6 2.6"/><line x1="659.5" y1="2079.7" x2="696.6" y2="2080.5" stroke="#a8acb8" stroke-width="1.7" stroke-dasharray="1.6 2.6"/><line x1="615.6" y1="2222.3" x2="642.6" y2="2222.3" stroke="#a8acb8" stroke-width="1.7" stroke-dasharray="1.6 2.6"/><line x1="605.5" y1="2264.5" x2="622.3" y2="2264.5" stroke="#a8acb8" stroke-width="1.7" stroke-dasharray="1.6 2.6"/><polygon points="515.3,2280.0 528.8,2280.0 511.9,2300.3 498.4,2312.1 478.2,2317.1 468.1,2318.8 478.2,2310.4 495.1,2298.6" fill="#30e0d4"/><polygon points="478.2,2315.5 496.8,2317.1 491.7,2325.6 476.5,2330.6 471.4,2344.2 464.7,2350.9 461.3,2357.7 451.2,2350.9 461.3,2344.2 466.4,2330.6" fill="#d02828"/><polygon points="545.7,2366.1 559.2,2367.8 545.7,2381.3 528.8,2394.8 515.3,2408.3 506.9,2408.3 511.9,2398.2 525.5,2384.7 535.6,2374.5" fill="#5ce8e0"/><polygon points="468.1,2415.1 481.6,2408.3 488.3,2413.4 478.2,2426.9 469.7,2425.2" fill="#f0e020"/><polygon points="457.9,2421.8 469.7,2423.5 473.1,2431.9 463.0,2431.9" fill="#d06020"/><line x1="429.2" y1="2437.0" x2="441.0" y2="2439.5" stroke="#a02020" stroke-width="2.7" stroke-linecap="round"/><line x1="415.7" y1="2461.5" x2="427.5" y2="2464.0" stroke="#a02020" stroke-width="2.7" stroke-linecap="round"/><line x1="598.1" y1="2286.8" x2="611.6" y2="2286.8" stroke="#a02020" stroke-width="2.7" stroke-linecap="round"/><line x1="581.2" y1="2300.3" x2="598.1" y2="2300.3" stroke="#a02020" stroke-width="2.7" stroke-linecap="round"/><line x1="574.4" y1="2317.1" x2="584.5" y2="2317.1" stroke="#a02020" stroke-width="2.7" stroke-linecap="round"/><linearGradient id="g7" gradientUnits="userSpaceOnUse" x1="461.3" y1="2431.9" x2="419.1" y2="2484.3"><stop offset="0" stop-color="#10c8e0"/><stop offset="1" stop-color="#20d0e4"/></linearGradient><polygon points="454.5,2431.9 468.1,2433.6 461.3,2447.1 447.8,2462.3 434.3,2474.2 424.2,2486.0 415.7,2482.6 424.2,2469.1 434.3,2455.6 444.4,2443.8" fill="url(#g7)"/><polyline points="461.3,2437.0 430.9,2474.2" fill="none" stroke="#208898" stroke-width="2.7" stroke-linejoin="round" stroke-linecap="round"/><polygon points="469.7,2459.0 481.6,2462.3 474.8,2474.2 461.3,2486.0 447.8,2497.8 441.0,2499.5 444.4,2487.7 454.5,2475.8 463.0,2465.7" fill="#22ead6"/><polygon points="439.4,2497.8 451.2,2499.5 444.4,2511.3 434.3,2519.7 424.2,2529.9 417.4,2540.0 407.3,2540.0 414.0,2526.5 424.2,2516.4 432.6,2506.2" fill="#d02020"/><polyline points="493.4,2497.8 515.3,2496.9" fill="none" stroke="#a02020" stroke-width="2.7" stroke-linejoin="round" stroke-linecap="round"/><polyline points="495.1,2497.8 505.2,2509.6" fill="none" stroke="#a02020" stroke-width="2.7" stroke-linejoin="round" stroke-linecap="round"/><polyline points="473.1,2521.4 488.3,2521.4" fill="none" stroke="#a02020" stroke-width="2.7" stroke-linejoin="round" stroke-linecap="round"/><polyline points="474.8,2521.4 486.6,2533.2" fill="none" stroke="#a02020" stroke-width="2.7" stroke-linejoin="round" stroke-linecap="round"/><polygon points="438.8,2480.0 469.2,2480.0 455.7,2493.5 445.6,2498.6 435.5,2496.9" fill="#30e4c8"/><polygon points="442.2,2498.6 452.3,2500.3 438.8,2517.1 425.3,2534.0 415.2,2547.5 408.4,2559.4 394.9,2569.5 378.1,2576.2 371.3,2581.3 369.6,2576.2 378.1,2571.2 391.6,2561.0 398.3,2549.2 405.1,2537.4 415.2,2523.9 428.7,2510.4" fill="#d02020"/><polyline points="388.2,2547.5 403.4,2545.8 394.9,2567.8" fill="none" stroke="#c03030" stroke-width="2.7" stroke-linejoin="round" stroke-linecap="round"/><linearGradient id="g8" gradientUnits="userSpaceOnUse" x1="433.8" y1="2544.2" x2="386.5" y2="2608.3"><stop offset="0" stop-color="#30ecd8"/><stop offset="1" stop-color="#60ecd8"/></linearGradient><polygon points="428.7,2542.5 438.8,2544.2 435.5,2561.0 425.3,2577.9 415.2,2594.8 405.1,2608.3 388.2,2610.0 384.8,2598.2 394.9,2583.0 408.4,2567.8 418.6,2554.3" fill="url(#g8)"/><polyline points="378.1,2613.4 421.9,2612.5 388.2,2615.1 398.3,2628.6 403.4,2638.7 394.9,2645.5 357.8,2647.1 364.5,2655.6 371.3,2662.3 374.7,2672.5 364.5,2677.5 344.3,2682.6" fill="none" stroke="#c82020" stroke-width="5.1" stroke-linejoin="round" stroke-linecap="round"/><line x1="346.0" y1="2581.3" x2="371.3" y2="2581.3" stroke="#a0a8c0" stroke-width="2.4" stroke-linecap="round"/><line x1="354.4" y1="2588.1" x2="371.3" y2="2588.1" stroke="#a0a8c0" stroke-width="2.4" stroke-linecap="round"/><line x1="298.7" y1="2672.5" x2="319.0" y2="2672.5" stroke="#a0a8c0" stroke-width="2.4" stroke-linecap="round"/><line x1="298.7" y1="2680.9" x2="319.0" y2="2686.0" stroke="#a0a8c0" stroke-width="2.4" stroke-linecap="round"/><line x1="494.5" y1="2496.9" x2="514.8" y2="2496.9" stroke="#a02020" stroke-width="2.7" stroke-linecap="round"/><line x1="496.2" y1="2498.6" x2="504.7" y2="2510.4" stroke="#a02020" stroke-width="2.7" stroke-linecap="round"/><line x1="472.6" y1="2521.4" x2="487.8" y2="2522.2" stroke="#a02020" stroke-width="2.7" stroke-linecap="round"/><line x1="474.3" y1="2522.2" x2="486.1" y2="2532.3" stroke="#a02020" stroke-width="2.7" stroke-linecap="round"/><line x1="452.3" y1="2549.2" x2="465.8" y2="2549.2" stroke="#a02020" stroke-width="2.7" stroke-linecap="round"/><line x1="344.3" y1="2625.2" x2="357.8" y2="2625.2" stroke="#a02020" stroke-width="2.7" stroke-linecap="round"/><line x1="386.5" y1="2664.0" x2="394.9" y2="2665.7" stroke="#a02020" stroke-width="2.7" stroke-linecap="round"/><polygon points="1835.1,1603.6 1843.5,1603.6 1851.9,1623.9 1850.3,1639.1 1845.2,1656.0 1835.1,1662.7 1831.7,1674.5 1830.0,1688.1 1818.2,1694.8 1819.9,1711.7 1811.4,1721.8 1804.7,1730.3 1796.2,1730.3 1787.8,1718.4 1784.4,1703.2 1797.9,1688.1 1814.8,1684.7 1809.7,1664.4 1806.4,1666.1 1814.8,1657.7 1824.9,1654.3 1824.9,1630.6 1823.2,1629.0 1838.4,1622.2 1836.8,1613.8" fill="#12dcf0"/><polygon points="1835.1,1603.6 1843.5,1603.6 1851.9,1623.9 1850.3,1639.1 1840.1,1640.8 1828.3,1635.7 1838.4,1622.2 1836.8,1613.8" fill="#22eec4"/><polygon points="1787.8,1711.7 1801.3,1708.3 1808.1,1721.8 1801.3,1730.3 1794.5,1728.6" fill="#10b0e4"/><polygon points="1777.7,1738.7 1789.5,1737.0 1797.9,1748.8 1794.5,1760.6 1782.7,1760.6 1777.7,1748.8" fill="#10d0f0"/><polygon points="1764.2,1765.7 1777.7,1764.9 1784.4,1782.6 1779.4,1787.7 1770.9,1787.7 1765.8,1775.8" fill="#10c8f0"/><polygon points="1750.6,1791.0 1759.1,1789.4 1769.2,1804.5 1769.2,1813.0 1759.1,1816.4 1752.3,1804.5" fill="#10cce8"/><polyline points="1816.5,1773.3 1823.2,1773.8" fill="none" stroke="#80e0e0" stroke-width="3.0" stroke-linejoin="round" stroke-linecap="round"/><line x1="1809.7" y1="1596.9" x2="1835.1" y2="1596.9" stroke="#a8acb8" stroke-width="1.7" stroke-dasharray="1.6 2.6"/><line x1="1851.9" y1="1604.5" x2="1889.1" y2="1604.5" stroke="#a8acb8" stroke-width="1.7" stroke-dasharray="1.6 2.6"/><line x1="1848.6" y1="1639.1" x2="1907.7" y2="1639.1" stroke="#a8acb8" stroke-width="1.7" stroke-dasharray="1.6 2.6"/><line x1="1848.6" y1="1661.0" x2="1895.8" y2="1661.0" stroke="#a8acb8" stroke-width="1.7" stroke-dasharray="1.6 2.6"/><line x1="1828.3" y1="1694.8" x2="1879.0" y2="1694.8" stroke="#a8acb8" stroke-width="1.7" stroke-dasharray="1.6 2.6"/><line x1="1836.8" y1="1716.8" x2="1853.6" y2="1716.8" stroke="#a8acb8" stroke-width="1.7" stroke-dasharray="1.6 2.6"/><line x1="1801.3" y1="1732.8" x2="1846.9" y2="1732.8" stroke="#a8acb8" stroke-width="1.7" stroke-dasharray="1.6 2.6"/><line x1="1745.6" y1="1765.7" x2="1757.4" y2="1765.7" stroke="#a8acb8" stroke-width="1.7" stroke-dasharray="1.6 2.6"/><line x1="1797.9" y1="1813.8" x2="1828.3" y2="1813.8" stroke="#a8acb8" stroke-width="1.7" stroke-dasharray="1.6 2.6"/><line x1="1690.3" y1="1760.3" x2="1700.5" y2="1760.3" stroke="#c04848" stroke-width="2.5" stroke-linecap="round"/><line x1="1688.6" y1="1767.1" x2="1702.1" y2="1767.1" stroke="#c04848" stroke-width="2.5" stroke-linecap="round"/><line x1="1690.3" y1="1777.7" x2="1700.5" y2="1777.7" stroke="#c04848" stroke-width="2.5" stroke-linecap="round"/><polygon points="1735.1,1821.6 1746.9,1820.8 1757.0,1830.9 1762.1,1839.4 1751.9,1841.0 1741.8,1832.6" fill="#10d0f0"/><polygon points="1723.2,1841.9 1733.4,1841.0 1745.2,1847.8 1751.9,1856.2 1741.8,1857.9 1730.0,1849.5" fill="#10d0e8"/><polygon points="1711.4,1868.1 1724.9,1868.9 1738.4,1879.9 1735.1,1895.1 1724.9,1898.4 1716.5,1890.0 1706.4,1881.6" fill="#10c8ec"/><polygon points="1696.2,1904.4 1708.1,1903.5 1721.6,1905.2 1728.3,1913.6 1714.8,1915.3 1704.7,1908.6" fill="#10c8e0"/><polygon points="1691.2,1923.8 1708.1,1925.5 1716.5,1937.3 1713.1,1955.8 1704.7,1967.7 1686.1,1967.7 1679.4,1959.2 1687.8,1949.1 1684.4,1935.6" fill="#10d8e0"/><polygon points="1691.2,1923.8 1708.1,1925.5 1716.5,1937.3 1701.3,1939.0 1687.8,1935.6" fill="#48e880"/><polygon points="1694.5,1949.1 1713.1,1950.8 1711.4,1957.5 1697.9,1956.7" fill="#1090d0"/><polygon points="1679.4,1959.2 1694.5,1959.2 1701.3,1967.7 1686.1,1967.7" fill="#30e0b0"/><polygon points="1669.2,1973.6 1681.0,1972.7 1692.9,1976.9 1697.9,1981.2 1684.4,1982.9 1676.0,1977.8" fill="#10b8d8"/><polygon points="1650.6,1991.3 1664.2,1990.5 1679.4,1993.8 1687.8,1998.1 1676.0,2000.6 1660.8,1996.4" fill="#20b0c8"/><line x1="1664.2" y1="1819.4" x2="1718.2" y2="1820.8" stroke="#8890a0" stroke-width="2.0" stroke-dasharray="1.6 2.6"/><line x1="1676.0" y1="1866.4" x2="1779.0" y2="1872.3" stroke="#8890a0" stroke-width="2.0" stroke-dasharray="1.6 2.6"/><line x1="1665.8" y1="1877.3" x2="1694.5" y2="1878.2" stroke="#8890a0" stroke-width="2.0" stroke-dasharray="1.6 2.6"/><line x1="1659.1" y1="1929.2" x2="1681.0" y2="1929.7" stroke="#8890a0" stroke-width="2.0" stroke-dasharray="1.6 2.6"/><line x1="1731.7" y1="1907.2" x2="1741.8" y2="1907.7" stroke="#8890a0" stroke-width="2.0" stroke-dasharray="1.6 2.6"/><line x1="1738.4" y1="1883.2" x2="1751.9" y2="1883.2" stroke="#8890a0" stroke-width="2.0" stroke-dasharray="1.6 2.6"/><line x1="1758.7" y1="1888.3" x2="1789.1" y2="1888.3" stroke="#8890a0" stroke-width="2.0" stroke-dasharray="1.6 2.6"/><line x1="1799.2" y1="1814.0" x2="1824.5" y2="1814.0" stroke="#8890a0" stroke-width="2.0" stroke-dasharray="1.6 2.6"/><line x1="1681.0" y1="1819.4" x2="1684.4" y2="1819.4" stroke="#404850" stroke-width="2.0" stroke-linecap="round"/><line x1="1767.1" y1="1872.3" x2="1777.3" y2="1872.3" stroke="#404850" stroke-width="2.0" stroke-linecap="round"/><line x1="1785.7" y1="1822.8" x2="1787.4" y2="1822.8" stroke="#404850" stroke-width="2.0" stroke-linecap="round"/><line x1="1718.2" y1="1983.7" x2="1721.6" y2="1983.7" stroke="#404850" stroke-width="2.0" stroke-linecap="round"/><linearGradient id="g9" gradientUnits="userSpaceOnUse" x1="1640.4" y1="2015.2" x2="1682.6" y2="2023.6"><stop offset="0" stop-color="#50e8a0"/><stop offset="1" stop-color="#10d0e0"/></linearGradient><polygon points="1640.4,2013.5 1659.0,2014.4 1674.2,2016.9 1682.6,2020.3 1679.2,2025.3 1667.4,2025.3 1652.2,2020.3 1642.1,2018.6" fill="url(#g9)"/><polyline points="1539.1,2016.9 1561.0,2018.9" fill="none" stroke="#707880" stroke-width="2.0" stroke-linejoin="round" stroke-linecap="round"/><polygon points="1618.4,2082.7 1628.6,2081.9 1629.4,2087.8 1619.3,2088.1" fill="#a02030"/><polygon points="1599.9,2111.4 1623.5,2111.4 1628.6,2116.5 1621.8,2120.7 1601.6,2120.7 1598.2,2116.5" fill="#c01818"/><polyline points="1592.3,2132.5 1626.9,2133.7" fill="none" stroke="#44e8a0" stroke-width="5.7" stroke-linejoin="round" stroke-linecap="round"/><polygon points="1566.1,2173.9 1574.5,2167.1 1588.1,2164.6 1606.6,2166.3 1598.2,2168.8 1581.3,2172.2 1571.2,2175.6" fill="#20e4d0"/><polygon points="1566.1,2206.0 1576.2,2199.2 1588.1,2196.7 1601.6,2199.2 1591.4,2202.6 1577.9,2206.8" fill="#30e8a8"/><polygon points="1550.9,2218.6 1571.2,2215.3 1583.0,2217.8 1584.7,2221.2 1567.8,2222.9 1552.6,2222.0" fill="#b01818"/><polygon points="1544.2,2229.6 1581.3,2228.8 1571.2,2239.7 1561.0,2249.9 1547.5,2254.9 1535.7,2251.6 1544.2,2241.4" fill="#10d8ec"/><polygon points="1544.2,2227.1 1581.3,2226.2 1579.6,2231.3 1544.2,2232.1" fill="#40e8a0"/><line x1="1637.0" y1="2090.3" x2="1665.7" y2="2090.3" stroke="#a8acb8" stroke-width="1.7" stroke-dasharray="1.6 2.6"/><line x1="1691.0" y1="2092.9" x2="1729.9" y2="2096.2" stroke="#a8acb8" stroke-width="1.7" stroke-dasharray="1.6 2.6"/><line x1="1675.8" y1="2124.1" x2="1699.5" y2="2125.8" stroke="#a8acb8" stroke-width="1.7" stroke-dasharray="1.6 2.6"/><line x1="1631.9" y1="2172.2" x2="1648.8" y2="2172.2" stroke="#a8acb8" stroke-width="1.7" stroke-dasharray="1.6 2.6"/><line x1="1648.8" y1="2195.8" x2="1686.0" y2="2199.2" stroke="#a8acb8" stroke-width="1.7" stroke-dasharray="1.6 2.6"/><line x1="1608.3" y1="2224.5" x2="1626.9" y2="2226.2" stroke="#a8acb8" stroke-width="1.7" stroke-dasharray="1.6 2.6"/><polygon points="1509.7,2303.3 1521.6,2295.7 1535.1,2289.0 1551.9,2286.4 1560.4,2289.0 1545.2,2292.3 1531.7,2299.1 1519.9,2305.0" fill="#20d8c0"/><polygon points="1518.2,2319.4 1528.3,2321.0 1533.4,2326.1 1528.3,2327.8 1518.2,2331.2 1511.4,2341.3 1501.3,2348.1 1497.9,2346.4 1508.1,2337.9 1511.4,2329.5" fill="#d01818"/><polygon points="1491.2,2370.0 1501.3,2358.2 1514.8,2348.1 1528.3,2345.5 1524.9,2354.8 1511.4,2364.9 1497.9,2371.7" fill="#20e4c0"/><polygon points="1491.2,2398.7 1501.3,2398.7 1497.9,2408.8 1491.2,2419.0 1481.0,2420.6 1479.4,2412.2" fill="#f0e020"/><polygon points="1474.3,2420.6 1489.5,2422.3 1484.4,2437.5 1482.7,2447.7 1467.5,2457.8 1457.4,2459.5 1449.0,2456.1 1454.0,2442.6 1460.8,2430.8" fill="#10dcf0"/><line x1="1565.5" y1="2290.6" x2="1587.4" y2="2294.0" stroke="#a8acb8" stroke-width="1.7" stroke-dasharray="1.6 2.6"/><line x1="1599.2" y1="2300.8" x2="1626.2" y2="2302.5" stroke="#a8acb8" stroke-width="1.7" stroke-dasharray="1.6 2.6"/><line x1="1567.1" y1="2332.9" x2="1585.7" y2="2337.1" stroke="#a8acb8" stroke-width="1.7" stroke-dasharray="1.6 2.6"/><line x1="1595.8" y1="2341.3" x2="1614.4" y2="2343.0" stroke="#a8acb8" stroke-width="1.7" stroke-dasharray="1.6 2.6"/><line x1="1528.3" y1="2408.8" x2="1551.9" y2="2412.2" stroke="#a8acb8" stroke-width="1.7" stroke-dasharray="1.6 2.6"/><line x1="1526.6" y1="2434.2" x2="1548.6" y2="2440.9" stroke="#a8acb8" stroke-width="1.7" stroke-dasharray="1.6 2.6"/><linearGradient id="g10" gradientUnits="userSpaceOnUse" x1="1468.8" y1="2450.0" x2="1445.2" y2="2478.7"><stop offset="0" stop-color="#10e0e8"/><stop offset="1" stop-color="#78e8a8"/></linearGradient><polygon points="1451.9,2450.0 1485.7,2450.0 1468.8,2460.1 1458.7,2470.3 1448.6,2480.4 1441.8,2477.0 1448.6,2463.5" fill="url(#g10)"/><polygon points="1463.8,2480.4 1473.9,2482.1 1468.8,2493.9 1458.7,2504.0 1448.6,2514.2 1440.1,2526.0 1428.3,2531.0 1418.2,2532.7 1421.6,2529.4 1435.1,2520.9 1443.5,2510.8 1451.9,2497.3 1458.7,2488.8" fill="#c81818"/><linearGradient id="g11" gradientUnits="userSpaceOnUse" x1="1445.2" y1="2534.4" x2="1391.2" y2="2574.9"><stop offset="0" stop-color="#10e0ec"/><stop offset="0.6" stop-color="#20e0d8"/><stop offset="1" stop-color="#80e8b0"/></linearGradient><polygon points="1428.3,2532.7 1448.6,2532.7 1438.4,2547.9 1424.9,2561.4 1414.8,2573.2 1404.7,2578.3 1392.9,2574.9 1401.3,2564.8 1414.8,2551.3" fill="url(#g11)"/><polyline points="1391.2,2580.0 1431.7,2583.4 1404.7,2585.1 1411.4,2601.9 1408.1,2608.7 1374.3,2607.0 1377.7,2613.8 1404.7,2613.8 1387.8,2617.1 1391.2,2629.0 1387.8,2637.4 1362.5,2640.8" fill="none" stroke="#c01818" stroke-width="4.7" stroke-linejoin="round" stroke-linecap="round"/><line x1="1320.3" y1="2632.3" x2="1333.8" y2="2635.7" stroke="#9098b0" stroke-width="2.4" stroke-linecap="round"/><line x1="1330.4" y1="2639.1" x2="1342.2" y2="2642.5" stroke="#9098b0" stroke-width="2.4" stroke-linecap="round"/><line x1="1367.5" y1="2574.9" x2="1384.4" y2="2574.1" stroke="#9098b0" stroke-width="2.4" stroke-linecap="round"/><line x1="1406.4" y1="2469.4" x2="1416.5" y2="2471.9" stroke="#9098b0" stroke-width="2.4" stroke-linecap="round"/><line x1="1451.9" y1="2542.0" x2="1477.3" y2="2543.7" stroke="#9098b0" stroke-width="2.4" stroke-linecap="round"/><polyline points="500,880 486,930 457,951 428.6,1008.6 414,1037 398,1075" fill="none" stroke="#e04020" stroke-width="7" stroke-linejoin="round" stroke-linecap="round" stroke-opacity="0.85"/><polyline points="475,1000 443,1051 421,1100 395,1150 372,1190" fill="none" stroke="#dfe6a0" stroke-width="9" stroke-linejoin="round" stroke-linecap="round"/><polyline points="438.3,929.6 436.3,935.3 431.0,943.5 431.0,948.8 432.1,953.9 430.1,961.5 424.0,961.7 428.2,965.7 426.5,967.2 436.2,968.4 429.4,971.4 422.9,973.0 418.7,977.9 416.6,984.5 413.3,989.7 407.1,996.8 402.7,1002.1 399.8,1007.3 399.2,1013.1 408.2,1014.0 401.9,1017.3 393.5,1020.4 389.3,1026.7 380.0,1027.0 386.5,1030.9 385.0,1034.6 382.3,1041.5 372.2,1042.4 379.3,1045.7 378.1,1048.0 377.6,1052.9 376.8,1060.3 369.3,1060.4 374.6,1064.5 373.9,1065.8 384.8,1066.6 377.2,1070.0 369.8,1071.1 366.7,1076.0 364.7,1081.5 361.4,1086.9 356.9,1093.1 352.3,1101.1 350.1,1108.3 345.7,1115.2 352.6,1115.7 347.8,1119.4 342.2,1123.1 339.3,1130.5 327.6,1130.7 335.8,1134.7 337.6,1137.4 334.7,1142.6 331.6,1150.7 329.3,1156.6 329.5,1163.7 336.6,1165.7 331.6,1167.9 327.7,1171.4 322.8,1176.9 336.1,1178.8 326.8,1181.1 321.7,1181.9 317.0,1189.8 314.2,1195.1 310.5,1203.7 308.2,1212.0" fill="none" stroke="#a01414" stroke-width="1.7" stroke-linejoin="round"/><polyline points="451.3,922.5 449.4,929.0 448.7,934.2 447.4,942.8 445.5,950.8 440.4,959.2 439.5,964.2 438.9,970.1 439.1,977.6 436.4,982.5 432.7,988.3 429.2,995.9 426.9,1002.2 417.5,1004.0 424.1,1006.4 424.1,1008.7 421.2,1014.2 418.1,1022.7 413.0,1028.7 408.1,1034.8 404.2,1042.3 402.7,1050.7 397.2,1055.9 396.0,1061.0 394.8,1067.2 401.9,1067.6 397.0,1071.4 389.6,1075.4 388.6,1083.6 395.5,1085.5 390.7,1087.8 383.1,1091.4 377.5,1097.0 371.9,1104.9 370.0,1111.3 368.0,1118.8 366.8,1127.0 380.3,1127.2 370.9,1131.2 364.7,1133.8 362.4,1140.3 361.6,1148.5 356.6,1156.2 353.9,1164.5 352.5,1170.3 348.7,1179.3 346.1,1185.5" fill="none" stroke="#a01414" stroke-width="1.7" stroke-linejoin="round"/><polyline points="462.2,902.6 475.2,904.2 466.1,906.8 459.1,908.3 454.8,913.7 453.8,921.7 450.6,930.6 447.4,935.8 446.9,941.9 446.9,949.0 444.3,955.2 439.9,963.9 437.4,972.9 435.9,978.6 430.9,986.1 427.9,993.1 424.1,1000.4 421.7,1005.6 419.6,1014.5 413.8,1021.4 412.0,1029.7 406.9,1036.0 400.2,1044.7 395.8,1049.7 407.2,1051.2 399.2,1053.9 392.7,1055.7 391.3,1063.0 388.7,1070.9 387.2,1075.9 383.9,1083.4 378.8,1090.5 368.4,1091.0 375.7,1094.7 376.9,1098.6 372.8,1104.8 373.0,1110.6 368.9,1116.1 363.6,1122.1 362.5,1128.7 353.3,1128.9 359.8,1132.9 358.5,1136.0 357.0,1142.4 357.3,1148.8 353.7,1157.0 365.8,1157.3 357.3,1161.2 349.4,1162.7 348.1,1171.8 354.6,1171.9 350.1,1176.0 345.2,1177.1 340.7,1183.5 333.9,1191.0 343.1,1192.5 336.6,1195.2 327.8,1197.6 317.7,1198.3 324.8,1201.8 326.5,1202.9 323.5,1211.6 320.3,1217.3" fill="none" stroke="#8c1010" stroke-width="1.7" stroke-linejoin="round"/><polyline points="464.8,921.8 463.2,930.4 460.7,938.5 458.6,943.7 456.5,948.6 453.2,956.1 450.4,963.8 448.9,971.1 447.6,980.2 448.6,988.3 437.7,988.9 445.3,992.5 443.7,994.9 434.7,995.4 441.0,999.1 439.8,1001.0 436.7,1007.6 433.9,1012.9 431.4,1020.2 430.9,1026.7 428.8,1035.7 424.8,1043.1 421.3,1049.2 417.8,1056.3 414.5,1065.1 413.7,1070.1 409.5,1077.7 405.9,1082.8 403.7,1090.1 398.0,1098.4 396.7,1104.3 403.5,1104.6 398.7,1108.5 390.8,1113.3 387.9,1118.4 400.8,1119.4 391.7,1122.6 384.9,1123.8 380.2,1130.6 378.6,1137.3 377.0,1146.4 371.8,1152.3 368.6,1160.4 366.8,1166.5 364.1,1173.9 359.8,1179.6 357.6,1188.3 364.0,1188.8 359.5,1192.5 351.2,1193.3 343.0,1195.2 348.8,1197.5" fill="none" stroke="#b81c1c" stroke-width="1.7" stroke-linejoin="round"/><polyline points="475.4,905.7 469.7,914.1 457.3,915.0 466.0,918.3 466.1,922.2 473.3,922.7 468.2,926.4 465.5,930.2 454.3,931.2 462.2,934.4 464.5,936.5 464.9,943.8 460.2,952.2 459.0,960.9 459.1,967.9 455.6,976.5 456.7,982.7 455.9,989.5 451.6,997.3 447.1,1006.3 433.4,1006.5 443.0,1010.5 440.4,1014.7 438.7,1022.1 435.1,1028.5 424.4,1028.9 431.9,1032.7 433.6,1036.6 431.4,1041.6 430.8,1048.9 424.3,1057.2 417.8,1065.4 429.7,1065.5 421.4,1069.6 412.0,1072.9 406.8,1080.6 418.9,1082.1 410.4,1084.8 402.6,1087.1 398.8,1094.8 396.1,1102.8 394.9,1109.4 392.6,1117.9 391.0,1126.5 388.7,1133.6 384.9,1140.3 396.8,1141.7 388.5,1144.5 381.1,1146.5 380.4,1152.6 375.2,1160.6 361.8,1162.1 371.2,1164.8 372.6,1165.5 367.6,1171.7 364.5,1179.1 360.6,1186.1 358.4,1192.7 355.5,1200.3 349.2,1208.7 343.6,1217.7 341.7,1223.0" fill="none" stroke="#b81c1c" stroke-width="1.7" stroke-linejoin="round"/><polyline points="482.1,908.3 477.7,916.0 487.5,916.9 480.7,920.2 475.1,921.9 474.6,928.6 461.3,929.8 470.6,932.8 471.6,937.6 472.3,943.2 459.8,944.8 468.6,947.4 470.1,948.4 469.1,953.7 468.1,962.6 468.8,968.8 464.8,977.6 464.1,983.3 465.2,988.9 460.8,995.1 459.0,1002.0 453.2,1009.8 453.0,1016.6 446.7,1024.2 441.6,1032.1 436.9,1039.0 433.2,1047.2 430.5,1053.3 427.7,1059.5 423.9,1067.2 435.7,1067.8 427.4,1071.4 420.9,1073.2 417.5,1080.0 406.6,1081.4 414.2,1084.2 413.6,1087.9 410.0,1096.3 402.2,1098.3 407.7,1100.5 408.3,1103.0 406.7,1111.4 399.1,1113.0 404.4,1115.6 402.5,1117.9 399.4,1122.9 396.3,1131.9 389.4,1139.3 386.9,1145.7 395.9,1147.3 389.6,1149.9 383.1,1154.0 395.2,1155.1 386.7,1158.2 379.7,1160.4 368.0,1161.6 376.2,1164.6 377.9,1165.4 374.9,1170.9 369.0,1177.2 368.1,1183.2 361.3,1191.2 353.0,1198.4 350.1,1204.0" fill="none" stroke="#b81c1c" stroke-width="1.7" stroke-linejoin="round"/><polyline points="488.8,895.5 483.8,903.9 479.1,909.1 465.2,909.7 475.0,913.3 477.7,916.8 476.9,924.2 484.5,924.3 479.2,928.4 472.9,931.3 469.7,937.6 456.2,938.9 465.6,941.8 469.9,942.7 456.2,943.6 465.8,946.9 469.6,949.3 469.9,957.4 470.5,966.5 469.0,973.1 467.8,981.8 469.2,988.5 469.3,993.7 466.4,1001.6 464.2,1007.8 471.2,1008.3 466.3,1012.0 463.3,1016.4 463.5,1021.7 460.3,1029.4 456.4,1038.5 453.6,1044.9 451.1,1050.5 446.2,1055.9 445.8,1061.4 441.2,1068.2 436.8,1073.2 433.6,1080.0 422.1,1080.1 430.1,1084.2 433.5,1085.0 430.9,1092.0 425.7,1098.9 423.1,1107.7 435.8,1109.4 426.9,1111.9 420.7,1112.6 417.1,1119.9 403.5,1121.2 413.0,1124.1 413.8,1126.1 410.0,1132.1 407.0,1138.4 401.4,1145.1 399.6,1150.5 395.3,1158.4 392.8,1164.4 389.9,1169.8 383.2,1178.5 376.2,1179.4 381.1,1182.7 382.3,1183.7 369.1,1184.9 378.3,1187.9 376.8,1189.8" fill="none" stroke="#8c1010" stroke-width="1.7" stroke-linejoin="round"/><polyline points="502.3,889.6 502.7,895.2 500.2,903.9 487.0,904.3 496.2,908.1 498.5,911.1 497.5,918.8 497.0,925.8 498.8,932.9 486.6,933.1 495.1,937.1 498.7,939.7 498.2,945.6 497.6,951.6 495.5,959.1 481.7,960.2 491.4,963.3 492.8,967.6 498.9,969.2 494.6,971.8 493.5,974.6 490.7,979.7 479.6,980.9 487.4,983.9 489.8,984.8 490.1,993.1 486.8,1001.2 483.3,1008.3 493.3,1008.4 486.3,1012.5 479.8,1014.9 466.1,1015.2 475.7,1019.1 477.2,1023.0 465.2,1023.0 473.6,1027.2 474.7,1029.6 485.2,1030.5 477.8,1033.8 469.8,1034.8 468.0,1042.9 460.0,1043.8 465.6,1047.1 464.2,1048.2 463.2,1057.1 455.9,1058.5 461.0,1061.3 462.0,1064.4 455.6,1073.1 449.4,1082.0 446.3,1087.1 434.0,1088.0 442.6,1091.3 443.5,1093.7 440.0,1100.5 437.0,1106.2 430.9,1112.9 427.1,1121.7 422.4,1129.8 416.2,1137.4 422.6,1137.7 418.1,1141.6 414.7,1143.3 428.6,1144.2 418.9,1147.5 408.9,1151.8 404.7,1160.4 400.2,1167.8 390.1,1167.9 397.2,1172.0 396.0,1174.0 394.0,1179.5 390.1,1187.5 397.7,1188.5 392.4,1191.7 382.1,1194.3" fill="none" stroke="#a01414" stroke-width="1.7" stroke-linejoin="round"/><polyline points="422.4,987.0 430.6,988.4 424.9,991.2 419.8,994.4 416.6,999.9 403.3,1001.1 412.6,1004.1 413.6,1005.7 411.3,1013.4 397.9,1013.6 407.3,1017.6 409.2,1022.5 399.8,1023.6 406.4,1026.7 405.0,1031.1 400.7,1039.7 398.6,1044.9 395.6,1051.8 389.2,1059.4 401.5,1060.1 392.9,1063.6 387.4,1065.8 383.3,1071.2 373.2,1071.3 380.2,1075.4 378.9,1079.6 375.7,1085.4 363.6,1086.9 372.1,1089.6 370.5,1091.2 380.0,1091.9 373.3,1095.4 364.2,1098.8 360.2,1104.6 355.9,1113.5 355.8,1119.1 348.3,1120.9 353.6,1123.3 352.3,1124.0 348.2,1130.4 341.8,1132.3 346.3,1134.6 344.5,1139.5 353.1,1140.7 347.1,1143.7 342.3,1145.3 338.3,1152.9 334.8,1161.5 347.8,1162.2 338.7,1165.7 332.2,1170.0 330.2,1178.3 325.9,1183.3 336.4,1184.1 329.1,1187.5 323.1,1189.2 319.4,1196.5 315.4,1205.4 313.3,1212.8 307.8,1220.1 295.9,1220.1 304.3,1224.3" fill="none" stroke="#c83030" stroke-width="1.3" stroke-linejoin="round"/><polyline points="455.8,996.9 462.6,997.3 457.9,1001.1 454.8,1002.9 452.3,1009.9 463.0,1011.0 455.5,1014.1 449.0,1015.1 440.3,1016.5 446.4,1019.3 444.2,1021.3 440.3,1028.9 448.0,1029.8 442.6,1033.1 438.5,1034.0 432.1,1042.6 445.8,1043.2 436.2,1046.8 429.1,1048.4 442.4,1048.7 433.1,1052.6 426.5,1055.2 423.4,1061.2 417.7,1069.6 413.1,1077.6 412.2,1085.3 407.5,1093.1 404.4,1099.3 396.0,1100.3 401.9,1103.5 398.2,1107.6 394.1,1114.3 389.1,1121.8 385.6,1130.1 377.5,1131.7 383.2,1134.3 383.5,1137.5 378.3,1145.0 374.3,1151.5 361.8,1153.1 370.6,1155.7 367.7,1159.9 380.8,1161.9 371.6,1164.1 364.9,1168.7 364.0,1174.9 360.0,1183.4 347.5,1183.7 356.2,1187.6 353.7,1191.3 361.2,1192.4 356.0,1195.5 352.5,1196.3 342.5,1197.2 349.5,1200.5 348.1,1203.4" fill="none" stroke="#a01818" stroke-width="1.3" stroke-linejoin="round"/><polyline points="475.3,975.7 477.0,981.8 476.9,990.3 473.6,998.1 472.0,1005.5 467.0,1011.0 460.3,1012.6 465.0,1015.2 460.4,1019.8 459.9,1027.0 458.7,1034.7 456.0,1042.1 452.6,1049.6 463.8,1051.2 455.9,1053.8 450.7,1056.2 457.2,1056.4 452.7,1060.4 448.0,1061.6 439.8,1062.0 445.5,1065.8 445.9,1068.5 440.9,1076.6 453.8,1077.3 444.8,1080.8 437.4,1085.2 433.9,1090.4 444.4,1091.9 437.0,1094.6 430.4,1096.3 442.3,1096.7 434.0,1100.5 427.4,1103.5 423.0,1110.0 437.0,1111.9 427.2,1114.2 416.7,1117.4 414.8,1126.1 412.8,1133.6 421.5,1133.7 415.4,1137.8 409.5,1139.8 406.7,1147.0 396.8,1148.3 403.7,1151.2 403.2,1152.6 390.4,1153.0 399.3,1156.8 397.5,1158.6 405.0,1159.5 399.7,1162.8 391.9,1167.5 389.6,1173.9 386.5,1179.8 383.5,1186.8 376.3,1194.7 382.5,1195.5 378.2,1198.9 370.9,1203.6 383.6,1204.8 374.7,1207.8 365.8,1209.3" fill="none" stroke="#a01818" stroke-width="1.3" stroke-linejoin="round"/></g><g stroke="#4a4a4a" stroke-width="1.8" fill="none" stroke-linecap="square"><line x1="225.4" y1="37.0" x2="225.4" y2="1190.3"/><line x1="225.4" y1="1190.3" x2="290.0" y2="1245.8"/><line x1="290.0" y1="1245.8" x2="946.1" y2="1245.8"/></g><g stroke="#4a4a4a" stroke-width="1.4" fill="none"><line x1="205.4" y1="213.0" x2="225.4" y2="229.0"/><line x1="205.4" y1="466.5" x2="225.4" y2="482.5"/><line x1="205.4" y1="720.5" x2="225.4" y2="736.5"/><line x1="205.4" y1="972.5" x2="225.4" y2="988.5"/><line x1="347.6" y1="1245.8" x2="347.6" y2="1274.4"/><line x1="451.0" y1="1245.8" x2="451.0" y2="1274.4"/><line x1="552.6" y1="1245.8" x2="552.6" y2="1274.4"/><line x1="653.2" y1="1245.8" x2="653.2" y2="1274.4"/><line x1="754.0" y1="1245.8" x2="754.0" y2="1274.4"/><line x1="855.0" y1="1245.8" x2="855.0" y2="1274.4"/><line x1="232.3" y1="1196.2" x2="232.3" y2="1224.8"/><line x1="251.4" y1="1212.7" x2="251.4" y2="1241.3"/><line x1="270.6" y1="1229.1" x2="270.6" y2="1257.7"/><line x1="290.0" y1="1245.8" x2="290.0" y2="1274.4"/></g><g stroke="#4a4a4a" stroke-width="1.8" fill="none" stroke-linecap="square"><line x1="274.4" y1="1579.5" x2="274.4" y2="2701.0"/><line x1="274.4" y1="2701.0" x2="333.8" y2="2731.0"/><line x1="333.8" y1="2731.0" x2="957.4" y2="2731.0"/></g><g stroke="#4a4a4a" stroke-width="1.4" fill="none"><line x1="249.4" y1="1785.4" x2="274.4" y2="1799.4"/><line x1="249.4" y1="2095.6" x2="274.4" y2="2109.6"/><line x1="249.4" y1="2407.3" x2="274.4" y2="2421.3"/><line x1="362.9" y1="2731.0" x2="362.9" y2="2759.5"/><line x1="500.2" y1="2731.0" x2="500.2" y2="2759.5"/><line x1="636.8" y1="2731.0" x2="636.8" y2="2759.5"/><line x1="774.7" y1="2731.0" x2="774.7" y2="2759.5"/><line x1="910.9" y1="2731.0" x2="910.9" y2="2759.5"/><line x1="289.2" y1="2708.5" x2="289.2" y2="2736.5"/><line x1="307.7" y1="2717.8" x2="307.7" y2="2745.8"/><line x1="324.3" y1="2726.2" x2="324.3" y2="2754.2"/></g><g stroke="#8a8a8a" stroke-width="2.2" fill="none" stroke-linecap="square"><line x1="1306.5" y1="1578.3" x2="1306.5" y2="2647.5"/><line x1="1306.5" y1="2647.5" x2="1344.0" y2="2698.0"/><line x1="1344.0" y1="2698.0" x2="1944.0" y2="2698.0"/></g><g stroke="#6a6a6a" stroke-width="1.8" fill="none"><line x1="1293.5" y1="1772.5" x2="1306.5" y2="1789.5"/><line x1="1293.5" y1="2072.4" x2="1306.5" y2="2089.4"/><line x1="1293.5" y1="2375.5" x2="1306.5" y2="2392.5"/><line x1="1378.0" y1="2698.0" x2="1378.0" y2="2724.5"/><line x1="1503.7" y1="2698.0" x2="1503.7" y2="2724.5"/><line x1="1629.0" y1="2698.0" x2="1629.0" y2="2724.5"/><line x1="1754.0" y1="2698.0" x2="1754.0" y2="2724.5"/><line x1="1879.5" y1="2698.0" x2="1879.5" y2="2724.5"/><line x1="1317.4" y1="2662.1" x2="1317.4" y2="2688.6"/><line x1="1327.9" y1="2676.3" x2="1327.9" y2="2702.8"/><line x1="1338.8" y1="2690.9" x2="1338.8" y2="2717.4"/></g><g stroke="#b0b0b0" stroke-width="4.6" fill="none"><line x1="1253.2" y1="34.0" x2="1253.2" y2="1139.5"/><line x1="1353.7" y1="1241.3" x2="1950.5" y2="1241.3"/><line x1="1266.1" y1="1152.5" x2="1242.6" y2="1152.5"/><line x1="1300.3" y1="1187.2" x2="1276.8" y2="1187.2"/><line x1="1332.6" y1="1219.9" x2="1309.1" y2="1219.9"/></g><g stroke="#8c8c8c" stroke-width="2" fill="none"><line x1="1253.2" y1="1139.5" x2="1353.7" y2="1241.3"/><line x1="1235.2" y1="202.3" x2="1253.2" y2="220.8"/><line x1="1235.2" y1="445.1" x2="1253.2" y2="463.6"/><line x1="1235.2" y1="684.3" x2="1253.2" y2="702.8"/><line x1="1235.2" y1="925.7" x2="1253.2" y2="944.2"/><line x1="1407.0" y1="1241.3" x2="1424.4" y2="1259.5"/><line x1="1499.7" y1="1241.3" x2="1517.1" y2="1259.5"/><line x1="1592.8" y1="1241.3" x2="1610.2" y2="1259.5"/><line x1="1686.1" y1="1241.3" x2="1703.5" y2="1259.5"/><line x1="1780.3" y1="1241.3" x2="1797.7" y2="1259.5"/><line x1="1873.3" y1="1241.3" x2="1890.7" y2="1259.5"/></g><g font-family="Liberation Serif, serif" font-size="100" fill="#000" stroke="#fff" stroke-width="1.1" vector-effect="non-scaling-stroke"><text vector-effect="non-scaling-stroke" transform="matrix(0.6190 0 0 0.6622 158.52 213.74)">0</text><text vector-effect="non-scaling-stroke" transform="matrix(0.6556 0 0 0.6691 85.41 467.20)">-0.5</text><text vector-effect="non-scaling-stroke" transform="matrix(0.6135 0 0 0.6636 134.25 719.80)">-1</text><text vector-effect="non-scaling-stroke" transform="matrix(0.6510 0 0 0.6770 85.42 971.98)">-1.5</text><text vector-effect="non-scaling-stroke" transform="matrix(0 -0.7814 0.7867 0 68.38 698.95)">z/(m)</text><text vector-effect="non-scaling-stroke" transform="matrix(0.7562 0 0 0.7300 23.94 1333.87)">x/(m)</text><text vector-effect="non-scaling-stroke" transform="matrix(0.7000 0 0 0.6874 219.80 1318.71)">0</text><text vector-effect="non-scaling-stroke" transform="matrix(0.6667 0 0 0.6879 257.67 1351.80)">4</text><text vector-effect="non-scaling-stroke" transform="matrix(0.6900 0 0 0.6741 307.55 1351.49)">3.2</text><text vector-effect="non-scaling-stroke" transform="matrix(0.6633 0 0 0.6741 408.98 1351.49)">3.4</text><text vector-effect="non-scaling-stroke" transform="matrix(0.6803 0 0 0.6741 510.20 1351.49)">3.6</text><text vector-effect="non-scaling-stroke" transform="matrix(0.6853 0 0 0.6691 610.87 1351.50)">3.8</text><text vector-effect="non-scaling-stroke" transform="matrix(0.6624 0 0 0.6894 737.98 1352.50)">4</text><text vector-effect="non-scaling-stroke" transform="matrix(0.6774 0 0 0.6741 815.85 1351.49)">4.2</text><text vector-effect="non-scaling-stroke" transform="matrix(0.7700 0 0 0.7867 644.03 1433.69)">y/(m)</text><text vector-effect="non-scaling-stroke" transform="matrix(0.8431 0 0 0.8178 518.31 1517.63)">(a)</text><text vector-effect="non-scaling-stroke" transform="matrix(0.6643 0 0 0.6637 1192.14 205.54)">0</text><text vector-effect="non-scaling-stroke" transform="matrix(0.6020 0 0 0.6309 1125.79 444.55)">-0.5</text><text vector-effect="non-scaling-stroke" transform="matrix(0.5824 0 0 0.6500 1172.16 686.30)">-1</text><text vector-effect="non-scaling-stroke" transform="matrix(0.6066 0 0 0.6341 1125.78 925.25)">-1.5</text><text vector-effect="non-scaling-stroke" transform="matrix(0 -0.7456 0.7200 0 1101.18 669.26)">z/(m)</text><text vector-effect="non-scaling-stroke" transform="matrix(0.6121 0 0 0.6303 1173.86 1209.60)">-2</text><text vector-effect="non-scaling-stroke" transform="matrix(0.6071 0 0 0.6548 1225.57 1244.05)">0</text><text vector-effect="non-scaling-stroke" transform="matrix(0.6500 0 0 0.6485 1258.88 1275.80)">2</text><text vector-effect="non-scaling-stroke" transform="matrix(0.7097 0 0 0.7222 1090.29 1328.23)">x/(m)</text><text vector-effect="non-scaling-stroke" transform="matrix(0.6253 0 0 0.6430 1398.17 1330.44)">3.2</text><text vector-effect="non-scaling-stroke" transform="matrix(0.6101 0 0 0.6430 1491.15 1330.44)">3.4</text><text vector-effect="non-scaling-stroke" transform="matrix(0.6120 0 0 0.6430 1584.74 1330.44)">3.6</text><text vector-effect="non-scaling-stroke" transform="matrix(0.6250 0 0 0.6382 1677.88 1330.44)">3.8</text><text vector-effect="non-scaling-stroke" transform="matrix(0.5828 0 0 0.6576 1794.83 1331.40)">4</text><text vector-effect="non-scaling-stroke" transform="matrix(0.6128 0 0 0.6430 1867.17 1330.44)">4.2</text><text vector-effect="non-scaling-stroke" transform="matrix(0.7171 0 0 0.7061 1705.48 1389.02)">y/(m)</text><text vector-effect="non-scaling-stroke" transform="matrix(0.8149 0 0 0.8331 1599.03 1516.60)">(b)</text><text vector-effect="non-scaling-stroke" transform="matrix(0.7571 0 0 0.6741 195.97 1792.83)">0</text><text vector-effect="non-scaling-stroke" transform="matrix(0.6868 0 0 0.6559 121.20 2102.62)">-0.5</text><text vector-effect="non-scaling-stroke" transform="matrix(0.7203 0 0 0.6152 171.98 2413.60)">-1</text><text vector-effect="non-scaling-stroke" transform="matrix(0 -0.7551 0.8078 0 73.04 2224.59)">z/(m)</text><text vector-effect="non-scaling-stroke" transform="matrix(0.8157 0 0 0.7278 48.18 2847.62)">x/(m)</text><text vector-effect="non-scaling-stroke" transform="matrix(0.7195 0 0 0.6636 230.38 2811.50)">-2</text><text vector-effect="non-scaling-stroke" transform="matrix(0.7293 0 0 0.6537 343.85 2831.95)">3</text><text vector-effect="non-scaling-stroke" transform="matrix(0.7310 0 0 0.6593 453.94 2833.11)">3.2</text><text vector-effect="non-scaling-stroke" transform="matrix(0.7038 0 0 0.6593 591.08 2833.11)">3.4</text><text vector-effect="non-scaling-stroke" transform="matrix(0.7103 0 0 0.6593 727.45 2833.11)">3.6</text><text vector-effect="non-scaling-stroke" transform="matrix(0.7190 0 0 0.6544 863.51 2833.12)">3.8</text><text vector-effect="non-scaling-stroke" transform="matrix(0.8203 0 0 0.7271 673.78 2906.27)">y/(m)</text><text vector-effect="non-scaling-stroke" transform="matrix(0.7735 0 0 0.8389 521.62 3029.08)">(c)</text><text vector-effect="non-scaling-stroke" transform="matrix(0.6333 0 0 0.6563 1248.67 1768.64)">0</text><text vector-effect="non-scaling-stroke" transform="matrix(0.6470 0 0 0.6412 1177.44 2068.64)">-0.5</text><text vector-effect="non-scaling-stroke" transform="matrix(0.6324 0 0 0.6136 1226.39 2372.00)">-1</text><text vector-effect="non-scaling-stroke" transform="matrix(0 -0.7542 0.7544 0 1119.66 2194.89)">z/(m)</text><text vector-effect="non-scaling-stroke" transform="matrix(0.7539 0 0 0.7278 1072.15 2799.42)">x/(m)</text><text vector-effect="non-scaling-stroke" transform="matrix(0.6591 0 0 0.6364 1259.89 2759.70)">-2</text><text vector-effect="non-scaling-stroke" transform="matrix(0.6311 0 0 0.6561 1283.39 2791.30)">-1</text><text vector-effect="non-scaling-stroke" transform="matrix(0.7439 0 0 0.6463 1357.78 2798.85)">3</text><text vector-effect="non-scaling-stroke" transform="matrix(0.6847 0 0 0.6504 1460.18 2798.22)">3.2</text><text vector-effect="non-scaling-stroke" transform="matrix(0.6557 0 0 0.6504 1586.92 2798.22)">3.4</text><text vector-effect="non-scaling-stroke" transform="matrix(0.6581 0 0 0.6504 1710.81 2798.22)">3.6</text><text vector-effect="non-scaling-stroke" transform="matrix(0.6698 0 0 0.6456 1836.65 2798.23)">3.8</text><text vector-effect="non-scaling-stroke" transform="matrix(0.7747 0 0 0.7392 1679.63 2875.51)">y/(m)</text><text vector-effect="non-scaling-stroke" transform="matrix(0.8707 0 0 0.8376 1596.68 3029.01)">(d)</text></g></svg></body></html>
